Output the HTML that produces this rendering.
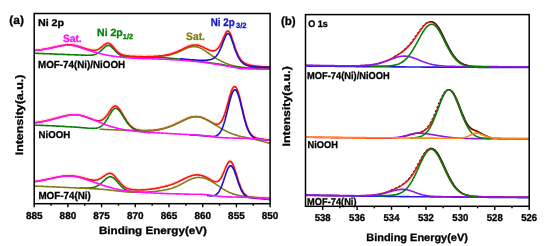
<!DOCTYPE html>
<html><head><meta charset="utf-8"><style>
html,body{margin:0;padding:0;background:#fff;}
svg{display:block;filter:blur(0.35px);}
text{font-family:"Liberation Sans",sans-serif;font-weight:bold;stroke-width:0.3px;text-rendering:geometricPrecision;}
</style></head><body>
<svg width="550" height="246" viewBox="0 0 550 246">
<rect width="550" height="246" fill="#fff"/>
<g stroke-linejoin="round" stroke-linecap="round">
<path d="M35.0,49.7L35.8,49.6L36.5,49.5L37.2,49.5L38.0,49.4L38.8,49.3L39.5,49.2L40.2,49.1L41.0,49.0L41.8,48.9L42.5,48.7L43.2,48.6L44.0,48.5L44.8,48.4L45.5,48.2L46.2,48.1L47.0,48.0L47.8,47.8L48.5,47.7L49.2,47.5L50.0,47.4L50.8,47.2L51.5,47.0L52.2,46.9L53.0,46.7L53.8,46.5L54.5,46.4L55.2,46.2L56.0,46.0L56.8,45.9L57.5,45.7L58.2,45.5L59.0,45.4L59.8,45.2L60.5,45.1L61.2,44.9L62.0,44.8L62.8,44.7L63.5,44.6L64.2,44.5L65.0,44.4L65.8,44.3L66.5,44.2L67.2,44.2L68.0,44.1L68.8,44.1L69.5,44.1L70.2,44.1L71.0,44.2L71.8,44.2L72.5,44.3L73.2,44.4L74.0,44.6L74.8,44.7L75.5,44.9L76.2,45.0L77.0,45.2L77.8,45.4L78.5,45.6L79.2,45.9L80.0,46.1L80.8,46.3L81.5,46.6L82.2,46.8L83.0,47.1L83.8,47.3L84.5,47.5L85.2,47.8L86.0,48.0L86.8,48.2L87.5,48.5L88.2,48.7L89.0,48.9L89.8,49.1L90.5,49.2L91.2,49.4L92.0,49.5L92.8,49.6L93.5,49.6L94.2,49.6L95.0,49.6L95.8,49.5L96.5,49.3L97.2,49.1L98.0,48.8L98.8,48.4L99.5,47.9L100.2,47.4L101.0,46.8L101.8,46.2L102.5,45.6L103.2,45.0L104.0,44.3L104.8,43.8L105.5,43.3L106.2,42.9L107.0,42.6L107.8,42.5L108.5,42.5L109.2,42.7L110.0,43.1L110.8,43.7L111.5,44.3L112.2,45.1L113.0,46.0L113.8,46.8L114.5,47.7L115.2,48.6L116.0,49.5L116.8,50.3L117.5,51.0L118.2,51.7L119.0,52.3L119.8,52.8L120.5,53.2L121.2,53.6L122.0,53.9L122.8,54.2L123.5,54.4L124.2,54.6L125.0,54.8L125.8,54.9L126.5,55.1L127.2,55.2L128.0,55.2L128.8,55.3L129.5,55.4L130.2,55.5L131.0,55.5L131.8,55.6L132.5,55.6L133.2,55.7L134.0,55.7L134.8,55.7L135.5,55.8L136.2,55.8L137.0,55.8L137.8,55.9L138.5,55.9L139.2,55.9L140.0,55.9L140.8,55.9L141.5,55.9L142.2,55.9L143.0,56.0L143.8,56.0L144.5,56.0L145.2,56.0L146.0,56.0L146.8,55.9L147.5,55.9L148.2,55.9L149.0,55.9L149.8,55.9L150.5,55.9L151.2,55.9L152.0,55.8L152.8,55.8L153.5,55.8L154.2,55.7L155.0,55.7L155.8,55.7L156.5,55.6L157.2,55.5L158.0,55.5L158.8,55.4L159.5,55.3L160.2,55.3L161.0,55.2L161.8,55.1L162.5,55.0L163.2,54.9L164.0,54.8L164.8,54.7L165.5,54.5L166.2,54.4L167.0,54.2L167.8,54.1L168.5,53.9L169.2,53.7L170.0,53.5L170.8,53.3L171.5,53.1L172.2,52.8L173.0,52.6L173.8,52.3L174.5,52.0L175.2,51.7L176.0,51.4L176.8,51.1L177.5,50.8L178.2,50.5L179.0,50.1L179.8,49.8L180.5,49.4L181.2,49.0L182.0,48.7L182.8,48.3L183.5,47.9L184.2,47.6L185.0,47.2L185.8,46.8L186.5,46.5L187.2,46.2L188.0,45.8L188.8,45.5L189.5,45.3L190.2,45.0L191.0,44.8L191.8,44.6L192.5,44.5L193.2,44.4L194.0,44.3L194.8,44.3L195.5,44.3L196.2,44.3L197.0,44.4L197.8,44.6L198.5,44.7L199.2,44.9L200.0,45.2L200.8,45.5L201.5,45.8L202.2,46.1L203.0,46.4L203.8,46.8L204.5,47.2L205.2,47.5L206.0,47.9L206.8,48.3L207.5,48.6L208.2,49.0L209.0,49.3L209.8,49.6L210.5,49.8L211.2,50.0L212.0,50.1L212.8,50.2L213.5,50.2L214.2,50.1L215.0,49.8L215.8,49.5L216.5,49.0L217.2,48.3L218.0,47.5L218.8,46.6L219.5,45.5L220.2,44.2L221.0,42.7L221.8,41.1L222.5,39.5L223.2,37.7L224.0,36.0L224.8,34.3L225.5,32.8L226.2,31.5L227.0,30.7L227.8,30.3L228.5,30.4L229.2,31.1L230.0,32.4L230.8,34.1L231.5,36.1L232.2,38.4L233.0,40.7L233.8,43.1L234.5,45.4L235.2,47.6L236.0,49.6L236.8,51.5L237.5,53.2L238.2,54.8L239.0,56.2L239.8,57.4L240.5,58.5L241.2,59.5L242.0,60.3L242.8,61.0L243.5,61.6L244.2,62.2L245.0,62.6L245.8,63.0L246.5,63.4L247.2,63.7L248.0,63.9L248.8,64.2L249.5,64.3L250.2,64.5L251.0,64.7L251.8,64.8L252.5,64.9L253.2,65.0L254.0,65.2L254.8,65.3L255.5,65.3L256.2,65.4L257.0,65.5L257.8,65.6L258.5,65.7L259.2,65.7L260.0,65.8L260.8,65.9L261.5,65.9L262.2,66.0L263.0,66.0L263.8,66.1L264.5,66.1L265.2,66.1L266.0,66.2L266.8,66.2L267.5,66.2L268.2,66.3L269.0,66.3L269.3,66.3" stroke="#ffe0da" stroke-width="2.8" fill="none"/>
<path d="M120.5,56.5L121.2,56.5L122.0,56.6L122.8,56.6L123.5,56.6L124.2,56.6L125.0,56.6L125.8,56.6L126.5,56.6L127.2,56.7L128.0,56.7L128.8,56.7L129.5,56.7L130.2,56.7L131.0,56.7L131.8,56.7L132.5,56.7L133.2,56.7L134.0,56.7L134.8,56.7L135.5,56.8L136.2,56.8L137.0,56.8L137.8,56.8L138.5,56.8L139.2,56.8L140.0,56.8L140.8,56.8L141.5,56.8L142.2,56.8L143.0,56.8L143.8,56.8L144.5,56.8L145.2,56.8L146.0,56.8L146.8,56.8L147.5,56.8L148.2,56.8L149.0,56.8L149.8,56.7L150.5,56.7L151.2,56.7L152.0,56.7L152.8,56.7L153.5,56.7L154.2,56.7L155.0,56.6L155.8,56.6L156.5,56.6L157.2,56.5L158.0,56.5L158.8,56.4L159.5,56.4L160.2,56.3L161.0,56.3L161.8,56.2L162.5,56.1L163.2,56.0L164.0,55.9L164.8,55.8L165.5,55.7L166.2,55.6L167.0,55.5L167.8,55.4L168.5,55.2L169.2,55.0L170.0,54.9L170.8,54.7L171.5,54.5L172.2,54.3L173.0,54.0L173.8,53.8L174.5,53.5L175.2,53.3L176.0,53.0L176.8,52.7L177.5,52.4L178.2,52.1L179.0,51.8L179.8,51.4L180.5,51.1L181.2,50.7L182.0,50.4L182.8,50.0L183.5,49.7L184.2,49.4L185.0,49.0L185.8,48.7L186.5,48.4L187.2,48.1L188.0,47.8L188.8,47.5L189.5,47.3L190.2,47.1L191.0,46.9L191.8,46.7L192.5,46.6L193.2,46.6L194.0,46.5L194.8,46.6L195.5,46.6L196.2,46.7L197.0,46.9L197.8,47.1L198.5,47.3L199.2,47.6L200.0,47.9L200.8,48.3L201.5,48.6L202.2,49.0L203.0,49.5L203.8,49.9L204.5,50.4L205.2,50.9L206.0,51.4L206.8,52.0L207.5,52.5L208.2,53.0L209.0,53.5L209.8,54.1L210.5,54.6L211.2,55.1L212.0,55.7L212.8,56.2L213.5,56.7L214.2,57.2L215.0,57.6L215.8,58.1L216.5,58.6L217.2,59.0L218.0,59.4L218.8,59.8L219.5,60.2L220.2,60.6L221.0,61.0L221.8,61.4L222.5,61.7L223.2,62.1L224.0,62.4L224.8,62.7L225.5,63.0L226.2,63.4L227.0,63.7L227.8,63.9L228.5,64.2L229.2,64.5L230.0,64.8L230.8,65.0L231.5,65.2L232.2,65.5L233.0,65.6L233.8,65.8L234.5,66.0L235.2,66.1L236.0,66.3L236.8,66.4L237.5,66.5L238.2,66.7L239.0,66.8L239.8,66.9L240.5,67.0L241.2,67.1L242.0,67.2L242.8,67.3L243.5,67.4L244.2,67.5L245.0,67.6L245.8,67.6L246.5,67.7L247.2,67.7L248.0,67.8L248.8,67.8L249.5,67.8L250.2,67.8L251.0,67.9L251.8,67.9L252.5,67.9L253.2,67.9L254.0,67.9L254.8,67.9L255.5,67.9L256.2,67.9L257.0,67.9L257.8,67.9L258.5,67.9L259.2,67.9L260.0,67.9L260.8,67.9L261.5,67.9L262.2,67.9L263.0,67.9L263.8,67.9L264.5,67.9L265.2,67.9L266.0,67.9L266.8,67.8L267.5,67.8L268.2,67.8L269.0,67.8L269.3,67.8" stroke="#7f7f12" stroke-width="1.60" fill="none"/>
<path d="M35.0,53.3L35.8,53.3L36.5,53.3L37.2,53.4L38.0,53.4L38.8,53.4L39.5,53.5L40.2,53.5L41.0,53.5L41.8,53.5L42.5,53.6L43.2,53.6L44.0,53.6L44.8,53.7L45.5,53.7L46.2,53.7L47.0,53.8L47.8,53.8L48.5,53.8L49.2,53.8L50.0,53.9L50.8,53.9L51.5,53.9L52.2,54.0L53.0,54.0L53.8,54.0L54.5,54.1L55.2,54.1L56.0,54.1L56.8,54.1L57.5,54.2L58.2,54.2L59.0,54.2L59.8,54.3L60.5,54.3L61.2,54.3L62.0,54.3L62.8,54.4L63.5,54.4L64.2,54.4L65.0,54.5L65.8,54.5L66.5,54.5L67.2,54.6L68.0,54.6L68.8,54.6L69.5,54.6L70.2,54.7L71.0,54.7L71.8,54.7L72.5,54.7L73.2,54.8L74.0,54.8L74.8,54.8L75.5,54.9L76.2,54.9L77.0,54.9L77.8,54.9L78.5,55.0L79.2,55.0L80.0,55.0L80.8,55.0L81.5,55.1L82.2,55.1L83.0,55.1L83.8,55.1L84.5,55.2L85.2,55.2L86.0,55.2L86.8,55.2L87.5,55.2L88.2,55.2L89.0,55.2L89.8,55.2L90.5,55.2L91.2,55.1L92.0,55.1L92.8,55.0L93.5,54.8L94.2,54.7L95.0,54.5L95.8,54.2L96.5,53.9L97.2,53.5L98.0,53.1L98.8,52.6L99.5,52.0L100.2,51.4L101.0,50.7L101.8,50.0L102.5,49.2L103.2,48.5L104.0,47.8L104.8,47.1L105.5,46.5L106.2,46.0L107.0,45.6L107.8,45.4L108.5,45.4L109.2,45.5L110.0,45.8L110.8,46.3L111.5,46.9L112.2,47.6L113.0,48.4L113.8,49.2L114.5,50.0L115.2,50.8L116.0,51.6L116.8,52.4L117.5,53.0L118.2,53.7L119.0,54.2L119.8,54.7L120.5,55.1L121.2,55.4L122.0,55.7L122.8,55.9L123.5,56.1L124.2,56.3L125.0,56.4L125.8,56.5L126.5,56.6L127.2,56.6L128.0,56.7L128.8,56.7L129.5,56.8L130.2,56.8L131.0,56.8L131.8,56.9L132.5,56.9L133.2,56.9L134.0,56.9L134.8,56.9L135.5,57.0L136.2,57.0L137.0,57.0L137.8,57.0L138.5,57.0L139.2,57.1L140.0,57.1L140.8,57.1L141.5,57.1L142.2,57.1L143.0,57.1L143.8,57.2L144.5,57.2L145.2,57.2L146.0,57.2L146.8,57.2L147.5,57.2L148.2,57.2L149.0,57.3L149.8,57.3L150.5,57.3L151.2,57.3L152.0,57.3L152.8,57.4L153.5,57.4L154.2,57.4L155.0,57.4L155.8,57.4L156.5,57.5L157.2,57.5L158.0,57.5L158.8,57.5L159.5,57.6L160.2,57.6L161.0,57.6L161.8,57.7L162.5,57.7L163.2,57.7L164.0,57.8L164.8,57.8L165.5,57.9L166.2,57.9L167.0,58.0L167.8,58.0L168.5,58.1L169.2,58.1L170.0,58.2L170.8,58.3L171.5,58.3L172.2,58.4L173.0,58.5L173.8,58.5L174.5,58.6L175.2,58.7L176.0,58.8L176.8,58.8L177.5,58.9L178.2,59.0L179.0,59.1L179.8,59.2L180.5,59.2L181.2,59.3L182.0,59.4L182.8,59.5L183.5,59.6L184.2,59.7L185.0,59.8L185.8,59.9L186.5,59.9L187.2,60.0L188.0,60.1L188.8,60.2L189.5,60.3L190.2,60.4L191.0,60.5L191.8,60.6L192.5,60.7L193.2,60.8L194.0,60.9L194.8,61.0L195.5,61.0L196.2,61.1L197.0,61.2L197.8,61.3L198.5,61.4L199.2,61.5L200.0,61.6L200.8,61.7L201.5,61.8L202.2,61.9L203.0,61.9L203.8,62.0L204.5,62.1L205.2,62.2L206.0,62.3L206.8,62.4L207.5,62.5L208.2,62.6L209.0,62.7L209.8,62.8L210.5,62.9L211.2,63.0L212.0,63.1L212.8,63.2L213.5,63.3L214.2,63.4L215.0,63.5L215.8,63.6L216.5,63.7L217.2,63.8L218.0,64.0L218.8,64.1L219.5,64.2L220.2,64.3L221.0,64.4L221.8,64.5L222.5,64.7L223.2,64.8L224.0,64.9L224.8,65.1L225.5,65.2L226.2,65.4L227.0,65.5L227.8,65.7L228.5,65.9L229.2,66.0L230.0,66.2L230.8,66.3L231.5,66.5L232.2,66.6L233.0,66.7L233.8,66.8L234.5,66.9L235.2,67.0L236.0,67.1L236.8,67.2L237.5,67.3L238.2,67.4L239.0,67.5L239.8,67.5L240.5,67.6L241.2,67.7L242.0,67.8L242.8,67.9L243.5,67.9L244.2,68.0L245.0,68.0L245.8,68.1L246.5,68.1L247.2,68.2L248.0,68.2L248.8,68.2L249.5,68.2L250.2,68.2L251.0,68.2L251.8,68.2L252.5,68.2L253.2,68.2L254.0,68.2L254.8,68.2L255.5,68.2L256.2,68.2L257.0,68.2L257.8,68.2L258.5,68.2L259.2,68.2L260.0,68.2L260.8,68.2L261.5,68.2L262.2,68.2L263.0,68.2L263.8,68.1L264.5,68.1L265.2,68.1L266.0,68.1L266.8,68.1L267.5,68.1L268.2,68.0L269.0,68.0L269.3,68.0" stroke="#0a7d0a" stroke-width="1.60" fill="none"/>
<path d="M35.0,50.4L35.8,50.3L36.5,50.2L37.2,50.2L38.0,50.1L38.8,50.0L39.5,49.9L40.2,49.8L41.0,49.7L41.8,49.6L42.5,49.4L43.2,49.3L44.0,49.2L44.8,49.1L45.5,48.9L46.2,48.8L47.0,48.7L47.8,48.5L48.5,48.4L49.2,48.2L50.0,48.1L50.8,47.9L51.5,47.7L52.2,47.6L53.0,47.4L53.8,47.2L54.5,47.1L55.2,46.9L56.0,46.7L56.8,46.6L57.5,46.4L58.2,46.2L59.0,46.1L59.8,45.9L60.5,45.8L61.2,45.6L62.0,45.5L62.8,45.4L63.5,45.3L64.2,45.2L65.0,45.1L65.8,45.0L66.5,44.9L67.2,44.9L68.0,44.8L68.8,44.8L69.5,44.8L70.2,44.8L71.0,44.9L71.8,44.9L72.5,45.0L73.2,45.1L74.0,45.3L74.8,45.4L75.5,45.6L76.2,45.7L77.0,45.9L77.8,46.1L78.5,46.3L79.2,46.6L80.0,46.8L80.8,47.0L81.5,47.3L82.2,47.5L83.0,47.8L83.8,48.0L84.5,48.2L85.2,48.5L86.0,48.7L86.8,48.9L87.5,49.2L88.2,49.4L89.0,49.6L89.8,49.8L90.5,49.9L91.2,50.1L92.0,50.2L92.8,50.3L93.5,50.3L94.2,50.3L95.0,50.3L95.8,50.2L96.5,50.0L97.2,49.8L98.0,49.5L98.8,49.1L99.5,48.6L100.2,48.1L101.0,47.5L101.8,46.9L102.5,46.3L103.2,45.7L104.0,45.0L104.8,44.5L105.5,44.0L106.2,43.6L107.0,43.3L107.8,43.2L108.5,43.2L109.2,43.4L110.0,43.8L110.8,44.4L111.5,45.0L112.2,45.8L113.0,46.7L113.8,47.5L114.5,48.4L115.2,49.3L116.0,50.2L116.8,51.0L117.5,51.7L118.2,52.4L119.0,53.0L119.8,53.5L120.5,53.9L121.2,54.3L122.0,54.6L122.8,54.9L123.5,55.1L124.2,55.3L125.0,55.5L125.8,55.6L126.5,55.8L127.2,55.9L128.0,55.9L128.8,56.0L129.5,56.1L130.2,56.2L131.0,56.2L131.8,56.3L132.5,56.3L133.2,56.4L134.0,56.4L134.8,56.4L135.5,56.5L136.2,56.5L137.0,56.5L137.8,56.6L138.5,56.6L139.2,56.6L140.0,56.6L140.8,56.6L141.5,56.6L142.2,56.6L143.0,56.7L143.8,56.7L144.5,56.7L145.2,56.7L146.0,56.7L146.8,56.6L147.5,56.6L148.2,56.6L149.0,56.6L149.8,56.6L150.5,56.6L151.2,56.6L152.0,56.5L152.8,56.5L153.5,56.5L154.2,56.4L155.0,56.4L155.8,56.4L156.5,56.3L157.2,56.2L158.0,56.2L158.8,56.1L159.5,56.0L160.2,56.0L161.0,55.9L161.8,55.8L162.5,55.7L163.2,55.6L164.0,55.5L164.8,55.4L165.5,55.2L166.2,55.1L167.0,54.9L167.8,54.8L168.5,54.6L169.2,54.4L170.0,54.2L170.8,54.0L171.5,53.8L172.2,53.5L173.0,53.3L173.8,53.0L174.5,52.7L175.2,52.4L176.0,52.1L176.8,51.8L177.5,51.5L178.2,51.2L179.0,50.8L179.8,50.5L180.5,50.1L181.2,49.7L182.0,49.4L182.8,49.0L183.5,48.6L184.2,48.3L185.0,47.9L185.8,47.5L186.5,47.2L187.2,46.9L188.0,46.5L188.8,46.2L189.5,46.0L190.2,45.7L191.0,45.5L191.8,45.3L192.5,45.2L193.2,45.1L194.0,45.0L194.8,45.0L195.5,45.0L196.2,45.0L197.0,45.1L197.8,45.3L198.5,45.4L199.2,45.6L200.0,45.9L200.8,46.2L201.5,46.5L202.2,46.8L203.0,47.1L203.8,47.5L204.5,47.9L205.2,48.2L206.0,48.6L206.8,49.0L207.5,49.3L208.2,49.7L209.0,50.0L209.8,50.3L210.5,50.5L211.2,50.7L212.0,50.8L212.8,50.9L213.5,50.9L214.2,50.8L215.0,50.5L215.8,50.2L216.5,49.7L217.2,49.0L218.0,48.2L218.8,47.3L219.5,46.2L220.2,44.9L221.0,43.4L221.8,41.8L222.5,40.2L223.2,38.4L224.0,36.7L224.8,35.0L225.5,33.5L226.2,32.2L227.0,31.4L227.8,31.0L228.5,31.1L229.2,31.8L230.0,33.1L230.8,34.8L231.5,36.8L232.2,39.1L233.0,41.4L233.8,43.8L234.5,46.1L235.2,48.3L236.0,50.3L236.8,52.2L237.5,53.9L238.2,55.5L239.0,56.9L239.8,58.1L240.5,59.2L241.2,60.2L242.0,61.0L242.8,61.7L243.5,62.3L244.2,62.9L245.0,63.3L245.8,63.7L246.5,64.1L247.2,64.4L248.0,64.6L248.8,64.9L249.5,65.0L250.2,65.2L251.0,65.4L251.8,65.5L252.5,65.6L253.2,65.7L254.0,65.9L254.8,66.0L255.5,66.0L256.2,66.1L257.0,66.2L257.8,66.3L258.5,66.4L259.2,66.4L260.0,66.5L260.8,66.6L261.5,66.6L262.2,66.7L263.0,66.7L263.8,66.8L264.5,66.8L265.2,66.8L266.0,66.9L266.8,66.9L267.5,66.9L268.2,67.0L269.0,67.0L269.3,67.0" stroke="#ff1010" stroke-width="1.60" fill="none"/>
<path d="M180.5,58.8L181.2,58.8L182.0,58.9L182.8,59.0L183.5,59.0L184.2,59.1L185.0,59.2L185.8,59.3L186.5,59.3L187.2,59.4L188.0,59.5L188.8,59.5L189.5,59.6L190.2,59.7L191.0,59.7L191.8,59.8L192.5,59.8L193.2,59.9L194.0,59.9L194.8,60.0L195.5,60.0L196.2,60.1L197.0,60.1L197.8,60.2L198.5,60.2L199.2,60.2L200.0,60.3L200.8,60.3L201.5,60.3L202.2,60.3L203.0,60.3L203.8,60.3L204.5,60.3L205.2,60.3L206.0,60.2L206.8,60.2L207.5,60.1L208.2,60.0L209.0,59.9L209.8,59.8L210.5,59.6L211.2,59.4L212.0,59.1L212.8,58.7L213.5,58.3L214.2,57.8L215.0,57.2L215.8,56.5L216.5,55.7L217.2,54.7L218.0,53.6L218.8,52.3L219.5,50.9L220.2,49.4L221.0,47.7L221.8,45.9L222.5,43.9L223.2,42.0L224.0,40.0L224.8,38.2L225.5,36.5L226.2,35.1L227.0,34.1L227.8,33.6L228.5,33.6L229.2,34.2L230.0,35.3L230.8,36.9L231.5,38.9L232.2,41.1L233.0,43.3L233.8,45.6L234.5,47.9L235.2,50.0L236.0,52.0L236.8,53.8L237.5,55.5L238.2,57.0L239.0,58.4L239.8,59.6L240.5,60.6L241.2,61.5L242.0,62.3L242.8,63.0L243.5,63.6L244.2,64.1L245.0,64.5L245.8,64.9L246.5,65.2L247.2,65.5L248.0,65.7L248.8,65.9L249.5,66.1L250.2,66.2L251.0,66.4L251.8,66.5L252.5,66.6L253.2,66.7L254.0,66.7L254.8,66.8L255.5,66.9L256.2,67.0L257.0,67.0L257.8,67.1L258.5,67.1L259.2,67.2L260.0,67.2L260.8,67.2L261.5,67.3L262.2,67.3L263.0,67.3L263.8,67.3L264.5,67.4L265.2,67.4L266.0,67.4L266.8,67.4L267.5,67.4L268.2,67.4L269.0,67.4L269.3,67.4" stroke="#1414c8" stroke-width="1.60" fill="none"/>
<path d="M35.0,50.6L35.8,50.5L36.5,50.4L37.2,50.3L38.0,50.2L38.8,50.1L39.5,50.0L40.2,49.9L41.0,49.8L41.8,49.7L42.5,49.6L43.2,49.5L44.0,49.4L44.8,49.2L45.5,49.1L46.2,49.0L47.0,48.8L47.8,48.7L48.5,48.5L49.2,48.4L50.0,48.2L50.8,48.1L51.5,47.9L52.2,47.8L53.0,47.6L53.8,47.5L54.5,47.3L55.2,47.1L56.0,47.0L56.8,46.8L57.5,46.6L58.2,46.5L59.0,46.3L59.8,46.2L60.5,46.0L61.2,45.9L62.0,45.8L62.8,45.7L63.5,45.6L64.2,45.5L65.0,45.4L65.8,45.3L66.5,45.3L67.2,45.2L68.0,45.2L68.8,45.2L69.5,45.2L70.2,45.3L71.0,45.3L71.8,45.4L72.5,45.5L73.2,45.6L74.0,45.7L74.8,45.9L75.5,46.1L76.2,46.3L77.0,46.5L77.8,46.7L78.5,46.9L79.2,47.2L80.0,47.4L80.8,47.7L81.5,47.9L82.2,48.2L83.0,48.4L83.8,48.7L84.5,49.0L85.2,49.2L86.0,49.5L86.8,49.7L87.5,50.0L88.2,50.2L89.0,50.5L89.8,50.7L90.5,51.0L91.2,51.2L92.0,51.4L92.8,51.7L93.5,51.9L94.2,52.1L95.0,52.3L95.8,52.5L96.5,52.7L97.2,52.9L98.0,53.1L98.8,53.3L99.5,53.5L100.2,53.7L101.0,53.8L101.8,54.0L102.5,54.2L103.2,54.3L104.0,54.5L104.8,54.7L105.5,54.8L106.2,55.0L107.0,55.1L107.8,55.2L108.5,55.4L109.2,55.5L110.0,55.6L110.8,55.8L111.5,55.9L112.2,56.0L113.0,56.1L113.8,56.2L114.5,56.3L115.2,56.4L116.0,56.5L116.8,56.6L117.5,56.7L118.2,56.8L119.0,56.9L119.8,57.0L120.5,57.1L121.2,57.2L122.0,57.3L122.8,57.3L123.5,57.4L124.2,57.5L125.0,57.5L125.8,57.6L126.5,57.7L127.2,57.7L128.0,57.8L128.8,57.8L129.5,57.9L130.2,57.9L131.0,58.0L131.8,58.0L132.5,58.1L133.2,58.1L134.0,58.2L134.8,58.2L135.5,58.2L136.2,58.3L137.0,58.3L137.8,58.3L138.5,58.4L139.2,58.4L140.0,58.4L140.8,58.5L141.5,58.5L142.2,58.5L143.0,58.6L143.8,58.6L144.5,58.6L145.2,58.6L146.0,58.7L146.8,58.7L147.5,58.7L148.2,58.7L149.0,58.8L149.8,58.8L150.5,58.8L151.2,58.8L152.0,58.9L152.8,58.9L153.5,58.9L154.2,58.9L155.0,59.0L155.8,59.0L156.5,59.0L157.2,59.0L158.0,59.1L158.8,59.1L159.5,59.1L160.2,59.1L161.0,59.2L161.8,59.2L162.5,59.2L163.2,59.2L164.0,59.3L164.8,59.3L165.5,59.3L166.2,59.4L167.0,59.4L167.8,59.4L168.5,59.5L169.2,59.5L170.0,59.5L170.8,59.6L171.5,59.6L172.2,59.6L173.0,59.7L173.8,59.7L174.5,59.8L175.2,59.8L176.0,59.9L176.8,59.9L177.5,59.9L178.2,60.0L179.0,60.1L179.8,60.1L180.5,60.2L181.2,60.2L182.0,60.3L182.8,60.3L183.5,60.4L184.2,60.4L185.0,60.5L185.8,60.6L186.5,60.6L187.2,60.7L188.0,60.8L188.8,60.8L189.5,60.9L190.2,61.0L191.0,61.0L191.8,61.1L192.5,61.2L193.2,61.2L194.0,61.3L194.8,61.4L195.5,61.5L196.2,61.5L197.0,61.6L197.8,61.7L198.5,61.8L199.2,61.8L200.0,61.9L200.8,62.0L201.5,62.1L202.2,62.2L203.0,62.3L203.8,62.3L204.5,62.4L205.2,62.6L206.0,62.7L206.8,62.8L207.5,62.9L208.2,63.0L209.0,63.1L209.8,63.2L210.5,63.3L211.2,63.5L212.0,63.6L212.8,63.7L213.5,63.8L214.2,64.0L215.0,64.1L215.8,64.2L216.5,64.3L217.2,64.5L218.0,64.6L218.8,64.7L219.5,64.8L220.2,65.0L221.0,65.1L221.8,65.2L222.5,65.3L223.2,65.5L224.0,65.6L224.8,65.7L225.5,65.8L226.2,65.9L227.0,66.1L227.8,66.2L228.5,66.3L229.2,66.4L230.0,66.6L230.8,66.7L231.5,66.9L232.2,67.0L233.0,67.1L233.8,67.3L234.5,67.4L235.2,67.6L236.0,67.7L236.8,67.8L237.5,68.0L238.2,68.1L239.0,68.2L239.8,68.3L240.5,68.4L241.2,68.5L242.0,68.6L242.8,68.6L243.5,68.7L244.2,68.7L245.0,68.8L245.8,68.8L246.5,68.8L247.2,68.8L248.0,68.9L248.8,68.9L249.5,68.9L250.2,68.9L251.0,68.9L251.8,69.0L252.5,69.0L253.2,69.0L254.0,69.0L254.8,69.0L255.5,69.0L256.2,69.1L257.0,69.1L257.8,69.1L258.5,69.1L259.2,69.1L260.0,69.1L260.8,69.1L261.5,69.1L262.2,69.2L263.0,69.2L263.8,69.2L264.5,69.2L265.2,69.2L266.0,69.2L266.8,69.2L267.5,69.2L268.2,69.2L269.0,69.2L269.3,69.2" stroke="#ff10ff" stroke-width="1.60" fill="none"/>
<path d="M35.0,121.9L35.8,121.8L36.5,121.7L37.2,121.6L38.0,121.5L38.8,121.4L39.5,121.3L40.2,121.1L41.0,121.0L41.8,120.9L42.5,120.7L43.2,120.6L44.0,120.5L44.8,120.3L45.5,120.1L46.2,120.0L47.0,119.8L47.8,119.6L48.5,119.5L49.2,119.3L50.0,119.1L50.8,118.9L51.5,118.7L52.2,118.5L53.0,118.3L53.8,118.1L54.5,117.9L55.2,117.7L56.0,117.5L56.8,117.3L57.5,117.1L58.2,116.9L59.0,116.7L59.8,116.5L60.5,116.3L61.2,116.1L62.0,115.9L62.8,115.7L63.5,115.5L64.2,115.3L65.0,115.2L65.8,115.0L66.5,114.9L67.2,114.7L68.0,114.6L68.8,114.5L69.5,114.4L70.2,114.3L71.0,114.2L71.8,114.1L72.5,114.1L73.2,114.1L74.0,114.0L74.8,114.0L75.5,114.1L76.2,114.1L77.0,114.2L77.8,114.3L78.5,114.4L79.2,114.5L80.0,114.6L80.8,114.8L81.5,115.0L82.2,115.2L83.0,115.4L83.8,115.6L84.5,115.9L85.2,116.1L86.0,116.4L86.8,116.6L87.5,116.9L88.2,117.2L89.0,117.5L89.8,117.7L90.5,118.0L91.2,118.3L92.0,118.6L92.8,118.9L93.5,119.1L94.2,119.3L95.0,119.6L95.8,119.8L96.5,119.9L97.2,120.0L98.0,120.1L98.8,120.1L99.5,120.0L100.2,119.9L101.0,119.7L101.8,119.4L102.5,119.0L103.2,118.5L104.0,117.9L104.8,117.2L105.5,116.4L106.2,115.5L107.0,114.5L107.8,113.5L108.5,112.4L109.2,111.2L110.0,110.1L110.8,109.0L111.5,108.0L112.2,107.1L113.0,106.4L113.8,105.8L114.5,105.4L115.2,105.3L116.0,105.5L116.8,105.8L117.5,106.3L118.2,107.1L119.0,107.9L119.8,108.9L120.5,110.0L121.2,111.2L122.0,112.5L122.8,113.8L123.5,115.1L124.2,116.3L125.0,117.6L125.8,118.8L126.5,120.0L127.2,121.1L128.0,122.1L128.8,123.1L129.5,124.0L130.2,124.8L131.0,125.5L131.8,126.1L132.5,126.7L133.2,127.2L134.0,127.7L134.8,128.1L135.5,128.4L136.2,128.8L137.0,129.0L137.8,129.2L138.5,129.4L139.2,129.6L140.0,129.7L140.8,129.9L141.5,130.0L142.2,130.1L143.0,130.1L143.8,130.2L144.5,130.2L145.2,130.2L146.0,130.3L146.8,130.3L147.5,130.3L148.2,130.3L149.0,130.2L149.8,130.2L150.5,130.2L151.2,130.1L152.0,130.1L152.8,130.0L153.5,129.9L154.2,129.8L155.0,129.7L155.8,129.6L156.5,129.5L157.2,129.4L158.0,129.2L158.8,129.1L159.5,128.9L160.2,128.8L161.0,128.6L161.8,128.4L162.5,128.2L163.2,128.0L164.0,127.8L164.8,127.6L165.5,127.3L166.2,127.1L167.0,126.9L167.8,126.6L168.5,126.3L169.2,126.1L170.0,125.8L170.8,125.5L171.5,125.2L172.2,124.9L173.0,124.6L173.8,124.2L174.5,123.9L175.2,123.6L176.0,123.2L176.8,122.9L177.5,122.5L178.2,122.1L179.0,121.8L179.8,121.4L180.5,121.1L181.2,120.7L182.0,120.3L182.8,120.0L183.5,119.6L184.2,119.2L185.0,118.9L185.8,118.6L186.5,118.2L187.2,117.9L188.0,117.6L188.8,117.3L189.5,117.1L190.2,116.8L191.0,116.6L191.8,116.4L192.5,116.3L193.2,116.1L194.0,116.0L194.8,116.0L195.5,115.9L196.2,115.9L197.0,116.0L197.8,116.0L198.5,116.1L199.2,116.3L200.0,116.4L200.8,116.6L201.5,116.9L202.2,117.1L203.0,117.4L203.8,117.7L204.5,118.0L205.2,118.4L206.0,118.8L206.8,119.1L207.5,119.5L208.2,120.0L209.0,120.4L209.8,120.8L210.5,121.2L211.2,121.7L212.0,122.1L212.8,122.4L213.5,122.8L214.2,123.1L215.0,123.3L215.8,123.5L216.5,123.6L217.2,123.6L218.0,123.5L218.8,123.2L219.5,122.7L220.2,122.0L221.0,121.1L221.8,120.0L222.5,118.7L223.2,117.1L224.0,115.2L224.8,113.1L225.5,110.8L226.2,108.3L227.0,105.6L227.8,102.9L228.5,100.1L229.2,97.4L230.0,94.7L230.8,92.3L231.5,90.2L232.2,88.5L233.0,87.1L233.8,86.2L234.5,85.9L235.2,86.0L236.0,86.7L236.8,87.9L237.5,89.7L238.2,91.8L239.0,94.3L239.8,97.2L240.5,100.2L241.2,103.4L242.0,106.7L242.8,109.9L243.5,113.1L244.2,116.1L245.0,119.0L245.8,121.6L246.5,124.0L247.2,126.2L248.0,128.1L248.8,129.8L249.5,131.2L250.2,132.5L251.0,133.5L251.8,134.4L252.5,135.1L253.2,135.7L254.0,136.2L254.8,136.6L255.5,136.9L256.2,137.2L257.0,137.5L257.8,137.7L258.5,137.8L259.2,138.0L260.0,138.1L260.8,138.2L261.5,138.4L262.2,138.5L263.0,138.6L263.8,138.7L264.5,138.8L265.2,138.9L266.0,139.0L266.8,139.2L267.5,139.3L268.2,139.4L269.0,139.5L269.3,139.5" stroke="#ffe0da" stroke-width="2.8" fill="none"/>
<path d="M35.0,122.6L35.8,122.5L36.5,122.4L37.2,122.3L38.0,122.2L38.8,122.1L39.5,122.0L40.2,121.8L41.0,121.7L41.8,121.6L42.5,121.4L43.2,121.3L44.0,121.2L44.8,121.0L45.5,120.8L46.2,120.7L47.0,120.5L47.8,120.3L48.5,120.2L49.2,120.0L50.0,119.8L50.8,119.6L51.5,119.4L52.2,119.2L53.0,119.0L53.8,118.8L54.5,118.6L55.2,118.4L56.0,118.2L56.8,118.0L57.5,117.8L58.2,117.6L59.0,117.4L59.8,117.2L60.5,117.0L61.2,116.8L62.0,116.6L62.8,116.4L63.5,116.2L64.2,116.0L65.0,115.9L65.8,115.7L66.5,115.6L67.2,115.4L68.0,115.3L68.8,115.2L69.5,115.1L70.2,115.0L71.0,114.9L71.8,114.8L72.5,114.8L73.2,114.8L74.0,114.7L74.8,114.7L75.5,114.8L76.2,114.8L77.0,114.9L77.8,115.0L78.5,115.1L79.2,115.2L80.0,115.3L80.8,115.5L81.5,115.7L82.2,115.9L83.0,116.1L83.8,116.3L84.5,116.6L85.2,116.8L86.0,117.1L86.8,117.3L87.5,117.6L88.2,117.9L89.0,118.2L89.8,118.4L90.5,118.7L91.2,119.0L92.0,119.3L92.8,119.6L93.5,119.8L94.2,120.0L95.0,120.3L95.8,120.5L96.5,120.6L97.2,120.7L98.0,120.8L98.8,120.8L99.5,120.7L100.2,120.6L101.0,120.4L101.8,120.1L102.5,119.7L103.2,119.2L104.0,118.6L104.8,117.9L105.5,117.1L106.2,116.2L107.0,115.2L107.8,114.2L108.5,113.1L109.2,111.9L110.0,110.8L110.8,109.7L111.5,108.7L112.2,107.8L113.0,107.1L113.8,106.5L114.5,106.1L115.2,106.0L116.0,106.2L116.8,106.5L117.5,107.0L118.2,107.8L119.0,108.6L119.8,109.6L120.5,110.7L121.2,111.9L122.0,113.2L122.8,114.5L123.5,115.8L124.2,117.0L125.0,118.3L125.8,119.5L126.5,120.7L127.2,121.8L128.0,122.8L128.8,123.8L129.5,124.7L130.2,125.5L131.0,126.2L131.8,126.8L132.5,127.4L133.2,127.9L134.0,128.4L134.8,128.8L135.5,129.1L136.2,129.5L137.0,129.7L137.8,129.9L138.5,130.1L139.2,130.3L140.0,130.4L140.8,130.6L141.5,130.7L142.2,130.8L143.0,130.8L143.8,130.9L144.5,130.9L145.2,130.9L146.0,131.0L146.8,131.0L147.5,131.0L148.2,131.0L149.0,130.9L149.8,130.9L150.5,130.9L151.2,130.8L152.0,130.8L152.8,130.7L153.5,130.6L154.2,130.5L155.0,130.4L155.8,130.3L156.5,130.2L157.2,130.1L158.0,129.9L158.8,129.8L159.5,129.6L160.2,129.5L161.0,129.3L161.8,129.1L162.5,128.9L163.2,128.7L164.0,128.5L164.8,128.3L165.5,128.0L166.2,127.8L167.0,127.6L167.8,127.3L168.5,127.0L169.2,126.8L170.0,126.5L170.8,126.2L171.5,125.9L172.2,125.6L173.0,125.3L173.8,124.9L174.5,124.6L175.2,124.3L176.0,123.9L176.8,123.6L177.5,123.2L178.2,122.8L179.0,122.5L179.8,122.1L180.5,121.8L181.2,121.4L182.0,121.0L182.8,120.7L183.5,120.3L184.2,119.9L185.0,119.6L185.8,119.3L186.5,118.9L187.2,118.6L188.0,118.3L188.8,118.0L189.5,117.8L190.2,117.5L191.0,117.3L191.8,117.1L192.5,117.0L193.2,116.8L194.0,116.7L194.8,116.7L195.5,116.6L196.2,116.6L197.0,116.7L197.8,116.7L198.5,116.8L199.2,117.0L200.0,117.1L200.8,117.3L201.5,117.6L202.2,117.8L203.0,118.1L203.8,118.4L204.5,118.7L205.2,119.1L206.0,119.5L206.8,119.8L207.5,120.2L208.2,120.7L209.0,121.1L209.8,121.5L210.5,121.9L211.2,122.4L212.0,122.8L212.8,123.1L213.5,123.5L214.2,123.8L215.0,124.0L215.8,124.2L216.5,124.3L217.2,124.3L218.0,124.2L218.8,123.9L219.5,123.4L220.2,122.7L221.0,121.8L221.8,120.7L222.5,119.4L223.2,117.8L224.0,115.9L224.8,113.8L225.5,111.5L226.2,109.0L227.0,106.3L227.8,103.6L228.5,100.8L229.2,98.1L230.0,95.4L230.8,93.0L231.5,90.9L232.2,89.2L233.0,87.8L233.8,86.9L234.5,86.6L235.2,86.7L236.0,87.4L236.8,88.6L237.5,90.4L238.2,92.5L239.0,95.0L239.8,97.9L240.5,100.9L241.2,104.1L242.0,107.4L242.8,110.6L243.5,113.8L244.2,116.8L245.0,119.7L245.8,122.3L246.5,124.7L247.2,126.9L248.0,128.8L248.8,130.5L249.5,131.9L250.2,133.2L251.0,134.2L251.8,135.1L252.5,135.8L253.2,136.4L254.0,136.9L254.8,137.3L255.5,137.6L256.2,137.9L257.0,138.2L257.8,138.4L258.5,138.5L259.2,138.7L260.0,138.8L260.8,138.9L261.5,139.1L262.2,139.2L263.0,139.3L263.8,139.4L264.5,139.5L265.2,139.6L266.0,139.7L266.8,139.9L267.5,140.0L268.2,140.1L269.0,140.2L269.3,140.2" stroke="#ff1010" stroke-width="1.60" fill="none"/>
<path d="M100.2,129.2L101.0,129.2L101.8,129.3L102.5,129.3L103.2,129.4L104.0,129.4L104.8,129.5L105.5,129.5L106.2,129.5L107.0,129.6L107.8,129.6L108.5,129.6L109.2,129.7L110.0,129.7L110.8,129.7L111.5,129.7L112.2,129.8L113.0,129.8L113.8,129.8L114.5,129.8L115.2,129.9L116.0,129.9L116.8,129.9L117.5,129.9L118.2,130.0L119.0,130.0L119.8,130.0L120.5,130.0L121.2,130.0L122.0,130.1L122.8,130.1L123.5,130.1L124.2,130.1L125.0,130.1L125.8,130.2L126.5,130.2L127.2,130.2L128.0,130.2L128.8,130.2L129.5,130.3L130.2,130.3L131.0,130.3L131.8,130.3L132.5,130.3L133.2,130.3L134.0,130.4L134.8,130.4L135.5,130.4L136.2,130.4L137.0,130.4L137.8,130.4L138.5,130.5L139.2,130.5L140.0,130.5L140.8,130.5L141.5,130.5L142.2,130.5L143.0,130.5L143.8,130.5L144.5,130.5L145.2,130.5L146.0,130.5L146.8,130.5L147.5,130.5L148.2,130.4L149.0,130.4L149.8,130.4L150.5,130.4L151.2,130.3L152.0,130.3L152.8,130.2L153.5,130.1L154.2,130.1L155.0,130.0L155.8,129.9L156.5,129.8L157.2,129.7L158.0,129.6L158.8,129.5L159.5,129.3L160.2,129.2L161.0,129.0L161.8,128.9L162.5,128.7L163.2,128.5L164.0,128.4L164.8,128.2L165.5,128.0L166.2,127.7L167.0,127.5L167.8,127.3L168.5,127.1L169.2,126.8L170.0,126.5L170.8,126.3L171.5,126.0L172.2,125.7L173.0,125.4L173.8,125.1L174.5,124.8L175.2,124.4L176.0,124.1L176.8,123.8L177.5,123.4L178.2,123.0L179.0,122.7L179.8,122.3L180.5,121.9L181.2,121.6L182.0,121.2L182.8,120.8L183.5,120.5L184.2,120.1L185.0,119.8L185.8,119.4L186.5,119.1L187.2,118.7L188.0,118.4L188.8,118.1L189.5,117.9L190.2,117.6L191.0,117.4L191.8,117.2L192.5,117.0L193.2,116.9L194.0,116.8L194.8,116.7L195.5,116.7L196.2,116.7L197.0,116.7L197.8,116.7L198.5,116.8L199.2,117.0L200.0,117.1L200.8,117.3L201.5,117.5L202.2,117.7L203.0,118.0L203.8,118.3L204.5,118.6L205.2,119.0L206.0,119.4L206.8,119.7L207.5,120.1L208.2,120.6L209.0,121.0L209.8,121.4L210.5,121.9L211.2,122.3L212.0,122.8L212.8,123.3L213.5,123.8L214.2,124.2L215.0,124.7L215.8,125.2L216.5,125.6L217.2,126.1L218.0,126.6L218.8,127.0L219.5,127.5L220.2,127.9L221.0,128.4L221.8,128.8L222.5,129.2L223.2,129.6L224.0,130.1L224.8,130.4L225.5,130.8L226.2,131.2L227.0,131.6L227.8,131.9L228.5,132.3L229.2,132.6L230.0,132.9L230.8,133.2L231.5,133.5L232.2,133.8L233.0,134.1L233.8,134.4L234.5,134.6L235.2,134.9L236.0,135.1L236.8,135.3L237.5,135.6L238.2,135.8L239.0,136.0L239.8,136.2L240.5,136.4L241.2,136.5L242.0,136.7L242.8,136.9L243.5,137.0L244.2,137.2L245.0,137.3L245.8,137.5L246.5,137.6L247.2,137.8L248.0,137.9L248.8,138.1L249.5,138.3L250.2,138.4L251.0,138.6L251.8,138.7L252.5,138.9L253.2,139.1L254.0,139.2L254.8,139.4L255.5,139.6L256.2,139.8L257.0,140.0L257.8,140.1L258.5,140.3L259.2,140.5L260.0,140.7L260.8,140.9L261.5,141.1L262.2,141.3L263.0,141.5L263.8,141.7L264.5,141.9L265.2,142.1L266.0,142.3L266.8,142.5L267.5,142.7L268.2,142.9L269.0,143.1L269.3,143.2" stroke="#7f7f12" stroke-width="1.60" fill="none"/>
<path d="M35.0,125.2L35.8,125.2L36.5,125.2L37.2,125.3L38.0,125.3L38.8,125.3L39.5,125.3L40.2,125.3L41.0,125.4L41.8,125.4L42.5,125.4L43.2,125.4L44.0,125.5L44.8,125.5L45.5,125.5L46.2,125.6L47.0,125.6L47.8,125.6L48.5,125.7L49.2,125.7L50.0,125.7L50.8,125.8L51.5,125.8L52.2,125.8L53.0,125.9L53.8,125.9L54.5,125.9L55.2,126.0L56.0,126.0L56.8,126.1L57.5,126.1L58.2,126.1L59.0,126.2L59.8,126.2L60.5,126.3L61.2,126.3L62.0,126.3L62.8,126.4L63.5,126.4L64.2,126.5L65.0,126.5L65.8,126.6L66.5,126.6L67.2,126.7L68.0,126.7L68.8,126.7L69.5,126.8L70.2,126.8L71.0,126.9L71.8,126.9L72.5,127.0L73.2,127.0L74.0,127.0L74.8,127.1L75.5,127.1L76.2,127.2L77.0,127.2L77.8,127.3L78.5,127.4L79.2,127.4L80.0,127.5L80.8,127.5L81.5,127.6L82.2,127.7L83.0,127.7L83.8,127.8L84.5,127.9L85.2,127.9L86.0,128.0L86.8,128.0L87.5,128.1L88.2,128.2L89.0,128.2L89.8,128.3L90.5,128.3L91.2,128.3L92.0,128.4L92.8,128.4L93.5,128.4L94.2,128.3L95.0,128.3L95.8,128.2L96.5,128.1L97.2,128.0L98.0,127.8L98.8,127.5L99.5,127.2L100.2,126.8L101.0,126.4L101.8,125.8L102.5,125.2L103.2,124.5L104.0,123.6L104.8,122.7L105.5,121.7L106.2,120.6L107.0,119.4L107.8,118.2L108.5,116.9L109.2,115.6L110.0,114.3L110.8,113.0L111.5,111.8L112.2,110.7L113.0,109.8L113.8,109.1L114.5,108.6L115.2,108.3L116.0,108.3L116.8,108.6L117.5,109.0L118.2,109.6L119.0,110.4L119.8,111.3L120.5,112.3L121.2,113.4L122.0,114.5L122.8,115.7L123.5,117.0L124.2,118.2L125.0,119.4L125.8,120.5L126.5,121.6L127.2,122.7L128.0,123.7L128.8,124.6L129.5,125.5L130.2,126.2L131.0,126.9L131.8,127.6L132.5,128.1L133.2,128.7L134.0,129.1L134.8,129.5L135.5,129.9L136.2,130.2L137.0,130.4L137.8,130.7L138.5,130.9L139.2,131.1L140.0,131.3L140.8,131.4L141.5,131.6L142.2,131.7L143.0,131.8L143.8,131.9L144.5,132.1L145.2,132.2L146.0,132.3L146.8,132.4L147.5,132.5L148.2,132.6L149.0,132.7L149.8,132.8" stroke="#0a7d0a" stroke-width="1.60" fill="none"/>
<path d="M190.2,134.9L191.0,134.9L191.8,134.9L192.5,135.0L193.2,135.0L194.0,135.1L194.8,135.1L195.5,135.2L196.2,135.2L197.0,135.3L197.8,135.3L198.5,135.4L199.2,135.4L200.0,135.5L200.8,135.5L201.5,135.6L202.2,135.6L203.0,135.7L203.8,135.8L204.5,135.9L205.2,135.9L206.0,136.0L206.8,136.1L207.5,136.2L208.2,136.2L209.0,136.3L209.8,136.4L210.5,136.4L211.2,136.5L212.0,136.5L212.8,136.5L213.5,136.5L214.2,136.4L215.0,136.2L215.8,136.0L216.5,135.7L217.2,135.3L218.0,134.8L218.8,134.1L219.5,133.2L220.2,132.2L221.0,130.9L221.8,129.4L222.5,127.7L223.2,125.7L224.0,123.5L224.8,121.0L225.5,118.3L226.2,115.5L227.0,112.5L227.8,109.4L228.5,106.3L229.2,103.2L230.0,100.3L230.8,97.6L231.5,95.2L232.2,93.2L233.0,91.6L233.8,90.4L234.5,89.8L235.2,89.8L236.0,90.3L236.8,91.3L237.5,92.8L238.2,94.8L239.0,97.2L239.8,99.9L240.5,102.8L241.2,105.9L242.0,109.0L242.8,112.2L243.5,115.3L244.2,118.2L245.0,121.0L245.8,123.6L246.5,125.9L247.2,128.0L248.0,129.9L248.8,131.5L249.5,132.9L250.2,134.1L251.0,135.1L251.8,135.9L252.5,136.6L253.2,137.2L254.0,137.6L254.8,138.0L255.5,138.3L256.2,138.5L257.0,138.7L257.8,138.9L258.5,139.0L259.2,139.2L260.0,139.3L260.8,139.4L261.5,139.5L262.2,139.5L263.0,139.6L263.8,139.7L264.5,139.8L265.2,139.9L266.0,140.0L266.8,140.1L267.5,140.1L268.2,140.2L269.0,140.3L269.3,140.3" stroke="#1414c8" stroke-width="1.60" fill="none"/>
<path d="M35.0,122.9L35.8,122.8L36.5,122.7L37.2,122.6L38.0,122.5L38.8,122.4L39.5,122.3L40.2,122.2L41.0,122.1L41.8,121.9L42.5,121.8L43.2,121.6L44.0,121.5L44.8,121.3L45.5,121.2L46.2,121.0L47.0,120.8L47.8,120.7L48.5,120.5L49.2,120.3L50.0,120.1L50.8,119.9L51.5,119.7L52.2,119.5L53.0,119.3L53.8,119.1L54.5,118.9L55.2,118.7L56.0,118.5L56.8,118.3L57.5,118.0L58.2,117.8L59.0,117.6L59.8,117.4L60.5,117.2L61.2,117.0L62.0,116.8L62.8,116.6L63.5,116.4L64.2,116.2L65.0,116.0L65.8,115.9L66.5,115.7L67.2,115.6L68.0,115.4L68.8,115.3L69.5,115.2L70.2,115.1L71.0,115.0L71.8,114.9L72.5,114.9L73.2,114.9L74.0,114.8L74.8,114.8L75.5,114.9L76.2,114.9L77.0,115.0L77.8,115.0L78.5,115.1L79.2,115.2L80.0,115.3L80.8,115.5L81.5,115.6L82.2,115.8L83.0,116.0L83.8,116.2L84.5,116.4L85.2,116.7L86.0,116.9L86.8,117.2L87.5,117.4L88.2,117.7L89.0,118.0L89.8,118.2L90.5,118.5L91.2,118.8L92.0,119.1L92.8,119.4L93.5,119.7L94.2,120.1L95.0,120.4L95.8,120.7L96.5,121.0L97.2,121.3L98.0,121.6L98.8,121.9L99.5,122.3L100.2,122.6L101.0,122.9L101.8,123.2L102.5,123.5L103.2,123.8L104.0,124.1L104.8,124.3L105.5,124.6L106.2,124.9L107.0,125.2L107.8,125.4L108.5,125.7L109.2,125.9L110.0,126.2L110.8,126.4L111.5,126.7L112.2,126.9L113.0,127.1L113.8,127.3L114.5,127.5L115.2,127.7L116.0,127.9L116.8,128.1L117.5,128.3L118.2,128.5L119.0,128.7L119.8,128.8L120.5,129.0L121.2,129.1L122.0,129.3L122.8,129.4L123.5,129.6L124.2,129.7L125.0,129.8L125.8,130.0L126.5,130.1L127.2,130.2L128.0,130.3L128.8,130.4L129.5,130.5L130.2,130.6L131.0,130.7L131.8,130.8L132.5,130.9L133.2,131.0L134.0,131.1L134.8,131.1L135.5,131.2L136.2,131.3L137.0,131.4L137.8,131.4L138.5,131.5L139.2,131.6L140.0,131.6L140.8,131.7L141.5,131.8L142.2,131.8L143.0,131.9L143.8,131.9L144.5,132.0L145.2,132.0L146.0,132.1L146.8,132.1L147.5,132.2L148.2,132.2L149.0,132.3L149.8,132.3L150.5,132.4L151.2,132.4L152.0,132.5L152.8,132.5L153.5,132.6L154.2,132.6L155.0,132.7L155.8,132.7L156.5,132.8L157.2,132.8L158.0,132.9L158.8,132.9L159.5,132.9L160.2,133.0L161.0,133.0L161.8,133.1L162.5,133.1L163.2,133.2L164.0,133.2L164.8,133.2L165.5,133.3L166.2,133.3L167.0,133.4L167.8,133.4L168.5,133.5L169.2,133.5L170.0,133.6L170.8,133.6L171.5,133.6L172.2,133.7L173.0,133.7L173.8,133.8L174.5,133.8L175.2,133.9L176.0,133.9L176.8,133.9L177.5,134.0L178.2,134.0L179.0,134.1L179.8,134.1L180.5,134.1L181.2,134.2L182.0,134.2L182.8,134.3L183.5,134.3L184.2,134.3L185.0,134.4L185.8,134.4L186.5,134.5L187.2,134.5L188.0,134.5L188.8,134.6L189.5,134.6L190.2,134.7L191.0,134.7L191.8,134.8L192.5,134.8L193.2,134.8L194.0,134.9L194.8,134.9L195.5,135.0L196.2,135.0L197.0,135.1L197.8,135.1L198.5,135.2L199.2,135.2L200.0,135.3L200.8,135.4L201.5,135.4L202.2,135.5L203.0,135.6L203.8,135.6L204.5,135.7L205.2,135.8L206.0,135.9L206.8,136.0L207.5,136.0L208.2,136.1L209.0,136.2L209.8,136.3L210.5,136.4L211.2,136.5L212.0,136.6L212.8,136.7L213.5,136.8L214.2,136.9L215.0,137.0L215.8,137.1L216.5,137.1L217.2,137.2L218.0,137.3L218.8,137.4L219.5,137.5L220.2,137.5L221.0,137.6L221.8,137.6L222.5,137.7L223.2,137.8L224.0,137.8L224.8,137.8L225.5,137.9L226.2,137.9L227.0,137.9L227.8,137.9L228.5,138.0L229.2,138.0L230.0,138.0L230.8,138.0L231.5,138.0L232.2,138.0L233.0,138.0L233.8,138.1L234.5,138.1L235.2,138.1L236.0,138.1L236.8,138.1L237.5,138.1L238.2,138.1L239.0,138.1L239.8,138.1L240.5,138.2L241.2,138.2L242.0,138.2L242.8,138.2L243.5,138.2L244.2,138.3L245.0,138.3L245.8,138.3L246.5,138.3L247.2,138.4L248.0,138.4L248.8,138.4L249.5,138.5L250.2,138.5L251.0,138.6L251.8,138.6L252.5,138.7L253.2,138.7L254.0,138.8L254.8,138.8L255.5,138.9L256.2,138.9L257.0,139.0L257.8,139.1L258.5,139.1L259.2,139.2L260.0,139.3L260.8,139.3L261.5,139.4L262.2,139.5L263.0,139.6L263.8,139.7L264.5,139.7L265.2,139.8L266.0,139.9L266.8,140.0L267.5,140.1L268.2,140.2L269.0,140.2L269.3,140.3" stroke="#ff10ff" stroke-width="1.60" fill="none"/>
<path d="M35.0,180.8L35.8,180.7L36.5,180.6L37.2,180.5L38.0,180.4L38.8,180.2L39.5,180.1L40.2,180.0L41.0,179.8L41.8,179.7L42.5,179.6L43.2,179.4L44.0,179.3L44.8,179.1L45.5,179.0L46.2,178.8L47.0,178.6L47.8,178.5L48.5,178.3L49.2,178.1L50.0,178.0L50.8,177.8L51.5,177.7L52.2,177.5L53.0,177.3L53.8,177.2L54.5,177.0L55.2,176.8L56.0,176.7L56.8,176.5L57.5,176.4L58.2,176.2L59.0,176.1L59.8,176.0L60.5,175.8L61.2,175.7L62.0,175.6L62.8,175.5L63.5,175.4L64.2,175.4L65.0,175.3L65.8,175.2L66.5,175.2L67.2,175.1L68.0,175.1L68.8,175.1L69.5,175.1L70.2,175.1L71.0,175.1L71.8,175.2L72.5,175.2L73.2,175.3L74.0,175.4L74.8,175.5L75.5,175.6L76.2,175.7L77.0,175.8L77.8,176.0L78.5,176.1L79.2,176.3L80.0,176.4L80.8,176.6L81.5,176.8L82.2,177.0L83.0,177.2L83.8,177.4L84.5,177.6L85.2,177.8L86.0,178.0L86.8,178.2L87.5,178.4L88.2,178.6L89.0,178.8L89.8,179.0L90.5,179.1L91.2,179.2L92.0,179.4L92.8,179.4L93.5,179.5L94.2,179.5L95.0,179.5L95.8,179.4L96.5,179.3L97.2,179.1L98.0,178.9L98.8,178.6L99.5,178.3L100.2,177.9L101.0,177.5L101.8,177.0L102.5,176.5L103.2,176.0L104.0,175.4L104.8,174.9L105.5,174.4L106.2,173.9L107.0,173.5L107.8,173.1L108.5,172.9L109.2,172.7L110.0,172.7L110.8,172.8L111.5,173.1L112.2,173.4L113.0,174.0L113.8,174.6L114.5,175.3L115.2,176.2L116.0,177.0L116.8,177.9L117.5,178.9L118.2,179.8L119.0,180.7L119.8,181.6L120.5,182.5L121.2,183.3L122.0,184.0L122.8,184.7L123.5,185.4L124.2,185.9L125.0,186.4L125.8,186.9L126.5,187.3L127.2,187.6L128.0,187.9L128.8,188.2L129.5,188.4L130.2,188.6L131.0,188.7L131.8,188.9L132.5,189.0L133.2,189.1L134.0,189.1L134.8,189.2L135.5,189.2L136.2,189.2L137.0,189.3L137.8,189.3L138.5,189.3L139.2,189.3L140.0,189.3L140.8,189.3L141.5,189.2L142.2,189.2L143.0,189.2L143.8,189.1L144.5,189.1L145.2,189.0L146.0,189.0L146.8,188.9L147.5,188.8L148.2,188.8L149.0,188.7L149.8,188.6L150.5,188.5L151.2,188.4L152.0,188.3L152.8,188.2L153.5,188.1L154.2,188.0L155.0,187.9L155.8,187.7L156.5,187.6L157.2,187.5L158.0,187.3L158.8,187.2L159.5,187.0L160.2,186.8L161.0,186.6L161.8,186.5L162.5,186.3L163.2,186.1L164.0,186.0L164.8,185.8L165.5,185.6L166.2,185.4L167.0,185.2L167.8,185.0L168.5,184.8L169.2,184.6L170.0,184.3L170.8,184.1L171.5,183.9L172.2,183.6L173.0,183.3L173.8,183.0L174.5,182.7L175.2,182.4L176.0,182.1L176.8,181.8L177.5,181.4L178.2,181.1L179.0,180.7L179.8,180.4L180.5,180.0L181.2,179.6L182.0,179.2L182.8,178.9L183.5,178.5L184.2,178.1L185.0,177.7L185.8,177.4L186.5,177.0L187.2,176.7L188.0,176.4L188.8,176.0L189.5,175.8L190.2,175.5L191.0,175.2L191.8,175.0L192.5,174.8L193.2,174.6L194.0,174.5L194.8,174.4L195.5,174.3L196.2,174.2L197.0,174.2L197.8,174.2L198.5,174.3L199.2,174.4L200.0,174.5L200.8,174.6L201.5,174.8L202.2,175.0L203.0,175.2L203.8,175.5L204.5,175.8L205.2,176.1L206.0,176.5L206.8,176.8L207.5,177.2L208.2,177.6L209.0,178.1L209.8,178.5L210.5,178.9L211.2,179.4L212.0,179.8L212.8,180.2L213.5,180.5L214.2,180.8L215.0,181.0L215.8,181.1L216.5,181.1L217.2,180.9L218.0,180.6L218.8,180.1L219.5,179.4L220.2,178.4L221.0,177.3L221.8,176.0L222.5,174.4L223.2,172.8L224.0,171.0L224.8,169.1L225.5,167.3L226.2,165.6L227.0,164.0L227.8,162.7L228.5,161.6L229.2,160.9L230.0,160.7L230.8,160.9L231.5,161.5L232.2,162.5L233.0,163.9L233.8,165.7L234.5,167.7L235.2,170.0L236.0,172.4L236.8,174.8L237.5,177.3L238.2,179.7L239.0,182.0L239.8,184.1L240.5,186.1L241.2,187.8L242.0,189.4L242.8,190.8L243.5,191.9L244.2,192.9L245.0,193.7L245.8,194.4L246.5,195.0L247.2,195.4L248.0,195.8L248.8,196.0L249.5,196.3L250.2,196.4L251.0,196.6L251.8,196.7L252.5,196.8L253.2,196.9L254.0,196.9L254.8,197.0L255.5,197.1L256.2,197.1L257.0,197.1L257.8,197.2L258.5,197.2L259.2,197.3L260.0,197.3L260.8,197.3L261.5,197.4L262.2,197.4L263.0,197.4L263.8,197.4L264.5,197.5L265.2,197.5L266.0,197.5L266.8,197.6L267.5,197.6L268.2,197.6L269.0,197.6L269.3,197.6" stroke="#ffe0da" stroke-width="2.8" fill="none"/>
<path d="M35.0,181.5L35.8,181.4L36.5,181.3L37.2,181.2L38.0,181.1L38.8,180.9L39.5,180.8L40.2,180.7L41.0,180.5L41.8,180.4L42.5,180.3L43.2,180.1L44.0,180.0L44.8,179.8L45.5,179.7L46.2,179.5L47.0,179.3L47.8,179.2L48.5,179.0L49.2,178.8L50.0,178.7L50.8,178.5L51.5,178.4L52.2,178.2L53.0,178.0L53.8,177.9L54.5,177.7L55.2,177.5L56.0,177.4L56.8,177.2L57.5,177.1L58.2,176.9L59.0,176.8L59.8,176.7L60.5,176.5L61.2,176.4L62.0,176.3L62.8,176.2L63.5,176.1L64.2,176.1L65.0,176.0L65.8,175.9L66.5,175.9L67.2,175.8L68.0,175.8L68.8,175.8L69.5,175.8L70.2,175.8L71.0,175.8L71.8,175.9L72.5,175.9L73.2,176.0L74.0,176.1L74.8,176.2L75.5,176.3L76.2,176.4L77.0,176.5L77.8,176.7L78.5,176.8L79.2,177.0L80.0,177.1L80.8,177.3L81.5,177.5L82.2,177.7L83.0,177.9L83.8,178.1L84.5,178.3L85.2,178.5L86.0,178.7L86.8,178.9L87.5,179.1L88.2,179.3L89.0,179.5L89.8,179.7L90.5,179.8L91.2,179.9L92.0,180.1L92.8,180.1L93.5,180.2L94.2,180.2L95.0,180.2L95.8,180.1L96.5,180.0L97.2,179.8L98.0,179.6L98.8,179.3L99.5,179.0L100.2,178.6L101.0,178.2L101.8,177.7L102.5,177.2L103.2,176.7L104.0,176.1L104.8,175.6L105.5,175.1L106.2,174.6L107.0,174.2L107.8,173.8L108.5,173.6L109.2,173.4L110.0,173.4L110.8,173.5L111.5,173.8L112.2,174.1L113.0,174.7L113.8,175.3L114.5,176.0L115.2,176.9L116.0,177.7L116.8,178.6L117.5,179.6L118.2,180.5L119.0,181.4L119.8,182.3L120.5,183.2L121.2,184.0L122.0,184.7L122.8,185.4L123.5,186.1L124.2,186.6L125.0,187.1L125.8,187.6L126.5,188.0L127.2,188.3L128.0,188.6L128.8,188.9L129.5,189.1L130.2,189.3L131.0,189.4L131.8,189.6L132.5,189.7L133.2,189.8L134.0,189.8L134.8,189.9L135.5,189.9L136.2,189.9L137.0,190.0L137.8,190.0L138.5,190.0L139.2,190.0L140.0,190.0L140.8,190.0L141.5,189.9L142.2,189.9L143.0,189.9L143.8,189.8L144.5,189.8L145.2,189.7L146.0,189.7L146.8,189.6L147.5,189.5L148.2,189.5L149.0,189.4L149.8,189.3L150.5,189.2L151.2,189.1L152.0,189.0L152.8,188.9L153.5,188.8L154.2,188.7L155.0,188.6L155.8,188.4L156.5,188.3L157.2,188.2L158.0,188.0L158.8,187.9L159.5,187.7L160.2,187.5L161.0,187.3L161.8,187.2L162.5,187.0L163.2,186.8L164.0,186.7L164.8,186.5L165.5,186.3L166.2,186.1L167.0,185.9L167.8,185.7L168.5,185.5L169.2,185.3L170.0,185.0L170.8,184.8L171.5,184.6L172.2,184.3L173.0,184.0L173.8,183.7L174.5,183.4L175.2,183.1L176.0,182.8L176.8,182.5L177.5,182.1L178.2,181.8L179.0,181.4L179.8,181.1L180.5,180.7L181.2,180.3L182.0,179.9L182.8,179.6L183.5,179.2L184.2,178.8L185.0,178.4L185.8,178.1L186.5,177.7L187.2,177.4L188.0,177.1L188.8,176.7L189.5,176.5L190.2,176.2L191.0,175.9L191.8,175.7L192.5,175.5L193.2,175.3L194.0,175.2L194.8,175.1L195.5,175.0L196.2,174.9L197.0,174.9L197.8,174.9L198.5,175.0L199.2,175.1L200.0,175.2L200.8,175.3L201.5,175.5L202.2,175.7L203.0,175.9L203.8,176.2L204.5,176.5L205.2,176.8L206.0,177.2L206.8,177.5L207.5,177.9L208.2,178.3L209.0,178.8L209.8,179.2L210.5,179.6L211.2,180.1L212.0,180.5L212.8,180.9L213.5,181.2L214.2,181.5L215.0,181.7L215.8,181.8L216.5,181.8L217.2,181.6L218.0,181.3L218.8,180.8L219.5,180.1L220.2,179.1L221.0,178.0L221.8,176.7L222.5,175.1L223.2,173.5L224.0,171.7L224.8,169.8L225.5,168.0L226.2,166.3L227.0,164.7L227.8,163.4L228.5,162.3L229.2,161.6L230.0,161.4L230.8,161.6L231.5,162.2L232.2,163.2L233.0,164.6L233.8,166.4L234.5,168.4L235.2,170.7L236.0,173.1L236.8,175.5L237.5,178.0L238.2,180.4L239.0,182.7L239.8,184.8L240.5,186.8L241.2,188.5L242.0,190.1L242.8,191.5L243.5,192.6L244.2,193.6L245.0,194.4L245.8,195.1L246.5,195.7L247.2,196.1L248.0,196.5L248.8,196.7L249.5,197.0L250.2,197.1L251.0,197.3L251.8,197.4L252.5,197.5L253.2,197.6L254.0,197.6L254.8,197.7L255.5,197.8L256.2,197.8L257.0,197.8L257.8,197.9L258.5,197.9L259.2,198.0L260.0,198.0L260.8,198.0L261.5,198.1L262.2,198.1L263.0,198.1L263.8,198.1L264.5,198.2L265.2,198.2L266.0,198.2L266.8,198.3L267.5,198.3L268.2,198.3L269.0,198.3L269.3,198.3" stroke="#ff1010" stroke-width="1.60" fill="none"/>
<path d="M80.0,187.9L80.8,187.9L81.5,188.0L82.2,188.0L83.0,188.0L83.8,188.0L84.5,188.0L85.2,188.0L86.0,188.0L86.8,188.0L87.5,188.0L88.2,188.0L89.0,188.0L89.8,187.9L90.5,187.9L91.2,187.8L92.0,187.7L92.8,187.5L93.5,187.4L94.2,187.2L95.0,186.9L95.8,186.7L96.5,186.3L97.2,185.9L98.0,185.5L98.8,185.0L99.5,184.5L100.2,183.9L101.0,183.3L101.8,182.6L102.5,182.0L103.2,181.3L104.0,180.6L104.8,179.9L105.5,179.2L106.2,178.6L107.0,178.0L107.8,177.6L108.5,177.2L109.2,176.9L110.0,176.8L110.8,176.8L111.5,176.9L112.2,177.2L113.0,177.6L113.8,178.2L114.5,178.8L115.2,179.6L116.0,180.4L116.8,181.2L117.5,182.1L118.2,183.0L119.0,183.8L119.8,184.7L120.5,185.5L121.2,186.3L122.0,187.0L122.8,187.6L123.5,188.2L124.2,188.8L125.0,189.3L125.8,189.7L126.5,190.1L127.2,190.4L128.0,190.7L128.8,191.0L129.5,191.2L130.2,191.3L131.0,191.5L131.8,191.6L132.5,191.7L133.2,191.8L134.0,191.9L134.8,191.9L135.5,192.0L136.2,192.0L137.0,192.0L137.8,192.0L138.5,192.0L139.2,192.0L140.0,192.0" stroke="#0a7d0a" stroke-width="1.60" fill="none"/>
<path d="M35.0,186.1L35.8,186.1L36.5,186.1L37.2,186.2L38.0,186.2L38.8,186.2L39.5,186.3L40.2,186.3L41.0,186.3L41.8,186.4L42.5,186.4L43.2,186.4L44.0,186.5L44.8,186.5L45.5,186.5L46.2,186.6L47.0,186.6L47.8,186.6L48.5,186.7L49.2,186.7L50.0,186.7L50.8,186.8L51.5,186.8L52.2,186.8L53.0,186.9L53.8,186.9L54.5,186.9L55.2,187.0L56.0,187.0L56.8,187.0L57.5,187.1L58.2,187.1L59.0,187.1L59.8,187.2L60.5,187.2L61.2,187.2L62.0,187.3L62.8,187.3L63.5,187.3L64.2,187.4L65.0,187.4L65.8,187.4L66.5,187.5L67.2,187.5L68.0,187.5L68.8,187.6L69.5,187.6L70.2,187.7L71.0,187.7L71.8,187.7L72.5,187.8L73.2,187.8L74.0,187.8L74.8,187.9L75.5,187.9L76.2,187.9L77.0,188.0L77.8,188.0L78.5,188.0L79.2,188.1L80.0,188.1L80.8,188.1L81.5,188.2L82.2,188.2L83.0,188.3L83.8,188.3L84.5,188.3L85.2,188.4L86.0,188.4L86.8,188.4L87.5,188.5L88.2,188.5L89.0,188.5L89.8,188.6L90.5,188.6L91.2,188.7L92.0,188.7L92.8,188.7L93.5,188.8L94.2,188.8L95.0,188.9L95.8,188.9L96.5,188.9L97.2,189.0L98.0,189.0L98.8,189.1L99.5,189.1L100.2,189.2L101.0,189.2L101.8,189.3L102.5,189.3L103.2,189.4L104.0,189.5L104.8,189.5L105.5,189.6L106.2,189.7L107.0,189.8L107.8,189.8L108.5,189.9L109.2,190.0L110.0,190.1L110.8,190.2L111.5,190.2L112.2,190.3L113.0,190.4L113.8,190.5L114.5,190.6L115.2,190.7L116.0,190.8L116.8,190.9L117.5,191.0L118.2,191.0L119.0,191.1L119.8,191.2L120.5,191.3L121.2,191.4L122.0,191.4L122.8,191.5L123.5,191.6L124.2,191.7L125.0,191.7L125.8,191.8L126.5,191.9L127.2,191.9L128.0,192.0L128.8,192.0L129.5,192.1L130.2,192.1L131.0,192.2L131.8,192.2L132.5,192.2L133.2,192.2L134.0,192.3L134.8,192.3L135.5,192.3L136.2,192.3L137.0,192.3L137.8,192.3L138.5,192.3L139.2,192.2L140.0,192.2L140.8,192.2L141.5,192.2L142.2,192.2L143.0,192.2L143.8,192.1L144.5,192.1L145.2,192.1L146.0,192.0L146.8,192.0L147.5,192.0L148.2,191.9L149.0,191.9L149.8,191.8L150.5,191.8L151.2,191.7L152.0,191.7L152.8,191.6L153.5,191.5L154.2,191.5L155.0,191.4L155.8,191.3L156.5,191.2L157.2,191.2L158.0,191.1L158.8,191.0L159.5,190.8L160.2,190.7L161.0,190.6L161.8,190.5L162.5,190.4L163.2,190.2L164.0,190.1L164.8,190.0L165.5,189.8L166.2,189.7L167.0,189.5L167.8,189.4L168.5,189.2L169.2,189.0L170.0,188.8L170.8,188.6L171.5,188.4L172.2,188.2L173.0,187.9L173.8,187.6L174.5,187.3L175.2,187.0L176.0,186.7L176.8,186.4L177.5,186.1L178.2,185.7L179.0,185.3L179.8,185.0L180.5,184.6L181.2,184.2L182.0,183.8L182.8,183.4L183.5,183.0L184.2,182.5L185.0,182.1L185.8,181.7L186.5,181.3L187.2,180.9L188.0,180.5L188.8,180.2L189.5,179.8L190.2,179.5L191.0,179.2L191.8,178.9L192.5,178.6L193.2,178.3L194.0,178.1L194.8,177.9L195.5,177.8L196.2,177.6L197.0,177.5L197.8,177.5L198.5,177.4L199.2,177.4L200.0,177.5L200.8,177.5L201.5,177.6L202.2,177.7L203.0,177.9L203.8,178.0L204.5,178.2L205.2,178.5L206.0,178.8L206.8,179.0L207.5,179.4L208.2,179.7L209.0,180.1L209.8,180.5L210.5,180.9L211.2,181.3L212.0,181.7L212.8,182.2L213.5,182.7L214.2,183.1L215.0,183.6L215.8,184.1L216.5,184.6L217.2,185.1L218.0,185.6L218.8,186.1L219.5,186.6L220.2,187.1L221.0,187.6L221.8,188.1L222.5,188.6L223.2,189.1L224.0,189.5L224.8,190.0L225.5,190.4L226.2,190.9L227.0,191.3L227.8,191.6L228.5,192.0L229.2,192.4L230.0,192.7L230.8,193.0L231.5,193.3L232.2,193.6L233.0,193.9L233.8,194.1L234.5,194.3L235.2,194.6L236.0,194.8L236.8,195.0L237.5,195.1L238.2,195.3L239.0,195.5L239.8,195.6L240.5,195.7L241.2,195.9L242.0,196.0L242.8,196.1L243.5,196.2L244.2,196.3L245.0,196.4L245.8,196.5L246.5,196.6L247.2,196.7L248.0,196.8L248.8,196.9L249.5,197.0L250.2,197.0L251.0,197.1L251.8,197.2L252.5,197.2L253.2,197.3L254.0,197.3L254.8,197.4L255.5,197.5L256.2,197.5L257.0,197.6L257.8,197.6L258.5,197.7L259.2,197.7L260.0,197.8L260.8,197.8L261.5,197.9L262.2,197.9L263.0,198.0L263.8,198.0L264.5,198.1L265.2,198.1L266.0,198.2L266.8,198.3L267.5,198.3L268.2,198.4L269.0,198.5L269.3,198.5" stroke="#7f7f12" stroke-width="1.60" fill="none"/>
<path d="M207.5,195.7L208.2,195.8L209.0,195.8L209.8,195.8L210.5,195.9L211.2,195.9L212.0,195.8L212.8,195.8L213.5,195.7L214.2,195.5L215.0,195.2L215.8,194.8L216.5,194.3L217.2,193.7L218.0,192.9L218.8,191.9L219.5,190.7L220.2,189.2L221.0,187.6L221.8,185.8L222.5,183.8L223.2,181.7L224.0,179.4L224.8,177.1L225.5,174.9L226.2,172.7L227.0,170.7L227.8,168.9L228.5,167.5L229.2,166.5L230.0,165.9L230.8,165.8L231.5,166.1L232.2,166.9L233.0,168.0L233.8,169.5L234.5,171.3L235.2,173.4L236.0,175.6L236.8,177.8L237.5,180.1L238.2,182.4L239.0,184.5L239.8,186.5L240.5,188.3L241.2,190.0L242.0,191.4L242.8,192.7L243.5,193.7L244.2,194.6L245.0,195.4L245.8,196.0L246.5,196.5L247.2,196.8L248.0,197.1L248.8,197.4L249.5,197.6L250.2,197.7L251.0,197.8L251.8,197.9L252.5,198.0L253.2,198.1L254.0,198.2L254.8,198.2L255.5,198.3L256.2,198.4L257.0,198.4L257.8,198.5L258.5,198.5L259.2,198.6L260.0,198.7L260.8,198.7L261.5,198.8L262.2,198.9L263.0,198.9L263.8,199.0L264.5,199.1L265.2,199.2L266.0,199.2L266.8,199.3L267.5,199.4L268.2,199.5L269.0,199.5L269.3,199.6" stroke="#1414c8" stroke-width="1.60" fill="none"/>
<path d="M35.0,181.7L35.8,181.6L36.5,181.5L37.2,181.4L38.0,181.3L38.8,181.1L39.5,181.0L40.2,180.9L41.0,180.7L41.8,180.6L42.5,180.4L43.2,180.3L44.0,180.1L44.8,180.0L45.5,179.8L46.2,179.7L47.0,179.5L47.8,179.3L48.5,179.2L49.2,179.0L50.0,178.9L50.8,178.7L51.5,178.5L52.2,178.4L53.0,178.2L53.8,178.0L54.5,177.9L55.2,177.7L56.0,177.6L56.8,177.4L57.5,177.3L58.2,177.1L59.0,177.0L59.8,176.9L60.5,176.8L61.2,176.7L62.0,176.6L62.8,176.5L63.5,176.4L64.2,176.3L65.0,176.2L65.8,176.2L66.5,176.1L67.2,176.1L68.0,176.1L68.8,176.1L69.5,176.1L70.2,176.1L71.0,176.2L71.8,176.2L72.5,176.3L73.2,176.4L74.0,176.5L74.8,176.6L75.5,176.7L76.2,176.8L77.0,177.0L77.8,177.1L78.5,177.3L79.2,177.5L80.0,177.7L80.8,177.9L81.5,178.1L82.2,178.3L83.0,178.5L83.8,178.7L84.5,179.0L85.2,179.2L86.0,179.4L86.8,179.7L87.5,180.0L88.2,180.2L89.0,180.5L89.8,180.7L90.5,181.0L91.2,181.2L92.0,181.5L92.8,181.8L93.5,182.0L94.2,182.3L95.0,182.6L95.8,182.8L96.5,183.1L97.2,183.4L98.0,183.6L98.8,183.9L99.5,184.2L100.2,184.4L101.0,184.7L101.8,184.9L102.5,185.2L103.2,185.4L104.0,185.6L104.8,185.9L105.5,186.1L106.2,186.4L107.0,186.6L107.8,186.8L108.5,187.0L109.2,187.2L110.0,187.4L110.8,187.6L111.5,187.8L112.2,188.0L113.0,188.2L113.8,188.4L114.5,188.6L115.2,188.8L116.0,189.0L116.8,189.1L117.5,189.3L118.2,189.4L119.0,189.6L119.8,189.8L120.5,189.9L121.2,190.0L122.0,190.2L122.8,190.3L123.5,190.4L124.2,190.6L125.0,190.7L125.8,190.8L126.5,190.9L127.2,191.0L128.0,191.1L128.8,191.2L129.5,191.3L130.2,191.3L131.0,191.4L131.8,191.5L132.5,191.6L133.2,191.6L134.0,191.7L134.8,191.8L135.5,191.8L136.2,191.9L137.0,192.0L137.8,192.0L138.5,192.1L139.2,192.2L140.0,192.2L140.8,192.3L141.5,192.3L142.2,192.4L143.0,192.4L143.8,192.5L144.5,192.5L145.2,192.6L146.0,192.6L146.8,192.7L147.5,192.7L148.2,192.8L149.0,192.8L149.8,192.8L150.5,192.9L151.2,192.9L152.0,193.0L152.8,193.0L153.5,193.0L154.2,193.1L155.0,193.1L155.8,193.1L156.5,193.2L157.2,193.2L158.0,193.2L158.8,193.3L159.5,193.3L160.2,193.3L161.0,193.4L161.8,193.4L162.5,193.4L163.2,193.5L164.0,193.5L164.8,193.5L165.5,193.5L166.2,193.6L167.0,193.6L167.8,193.6L168.5,193.6L169.2,193.7L170.0,193.7L170.8,193.7L171.5,193.7L172.2,193.7L173.0,193.8L173.8,193.8L174.5,193.8L175.2,193.8L176.0,193.9L176.8,193.9L177.5,193.9L178.2,193.9L179.0,193.9L179.8,193.9L180.5,194.0L181.2,194.0L182.0,194.0L182.8,194.0L183.5,194.0L184.2,194.0L185.0,194.1L185.8,194.1L186.5,194.1L187.2,194.1L188.0,194.1L188.8,194.1L189.5,194.2L190.2,194.2L191.0,194.2L191.8,194.2L192.5,194.2L193.2,194.2L194.0,194.2L194.8,194.2L195.5,194.3L196.2,194.3L197.0,194.3L197.8,194.3L198.5,194.3L199.2,194.3L200.0,194.3L200.8,194.3L201.5,194.4L202.2,194.4L203.0,194.4L203.8,194.5L204.5,194.6L205.2,194.6L206.0,194.7L206.8,194.8L207.5,194.8L208.2,194.9L209.0,195.0L209.8,195.1L210.5,195.2L211.2,195.3L212.0,195.4L212.8,195.5L213.5,195.6L214.2,195.7L215.0,195.8L215.8,195.9L216.5,196.0L217.2,196.0L218.0,196.1L218.8,196.2L219.5,196.3L220.2,196.4L221.0,196.5L221.8,196.5L222.5,196.6L223.2,196.6L224.0,196.7L224.8,196.7L225.5,196.8L226.2,196.8L227.0,196.8L227.8,196.9L228.5,196.9L229.2,196.9L230.0,196.9L230.8,196.9L231.5,196.9L232.2,197.0L233.0,197.0L233.8,197.0L234.5,197.0L235.2,197.0L236.0,197.0L236.8,197.1L237.5,197.1L238.2,197.1L239.0,197.1L239.8,197.1L240.5,197.1L241.2,197.1L242.0,197.2L242.8,197.2L243.5,197.2L244.2,197.2L245.0,197.2L245.8,197.3L246.5,197.3L247.2,197.3L248.0,197.4L248.8,197.4L249.5,197.4L250.2,197.5L251.0,197.5L251.8,197.6L252.5,197.6L253.2,197.7L254.0,197.7L254.8,197.8L255.5,197.8L256.2,197.9L257.0,197.9L257.8,198.0L258.5,198.1L259.2,198.1L260.0,198.2L260.8,198.3L261.5,198.3L262.2,198.4L263.0,198.5L263.8,198.5L264.5,198.6L265.2,198.7L266.0,198.8L266.8,198.9L267.5,198.9L268.2,199.0L269.0,199.1L269.3,199.1" stroke="#ff10ff" stroke-width="1.60" fill="none"/>
<path d="M306.3,65.5L307.1,65.5L307.8,65.5L308.6,65.5L309.3,65.6L310.1,65.6L310.8,65.6L311.6,65.6L312.3,65.6L313.1,65.6L313.8,65.6L314.6,65.6L315.3,65.6L316.1,65.6L316.8,65.6L317.6,65.6L318.3,65.6L319.1,65.6L319.8,65.6L320.6,65.7L321.3,65.7L322.1,65.7L322.8,65.7L323.6,65.7L324.3,65.7L325.1,65.7L325.8,65.7L326.6,65.7L327.3,65.7L328.1,65.7L328.8,65.7L329.6,65.7L330.3,65.7L331.1,65.7L331.8,65.7L332.6,65.7L333.3,65.7L334.1,65.7L334.8,65.7L335.6,65.8L336.3,65.8L337.1,65.8L337.8,65.8L338.6,65.8L339.3,65.8L340.1,65.8L340.8,65.8L341.6,65.8L342.3,65.8L343.1,65.8L343.8,65.8L344.6,65.8L345.3,65.8L346.1,65.8L346.8,65.8L347.6,65.8L348.3,65.8L349.1,65.8L349.8,65.8L350.6,65.8L351.3,65.8L352.1,65.8L352.8,65.8L353.6,65.8L354.3,65.8L355.1,65.8L355.8,65.7L356.6,65.7L357.3,65.7L358.1,65.7L358.8,65.7L359.6,65.7L360.3,65.7L361.1,65.6L361.8,65.6L362.6,65.6L363.3,65.5L364.1,65.5L364.8,65.5L365.6,65.4L366.3,65.4L367.1,65.3L367.8,65.2L368.6,65.2L369.3,65.1L370.1,65.0L370.8,64.9L371.6,64.8L372.3,64.7L373.1,64.6L373.8,64.5L374.6,64.3L375.3,64.2L376.1,64.0L376.8,63.9L377.6,63.7L378.3,63.5L379.1,63.3L379.8,63.1L380.6,62.9L381.3,62.6L382.1,62.4L382.8,62.1L383.6,61.9L384.3,61.6L385.1,61.3L385.8,61.0L386.6,60.7L387.3,60.4L388.1,60.1L388.8,59.7L389.6,59.4L390.3,59.0L391.1,58.7L391.8,58.3L392.6,57.9L393.3,57.5L394.1,57.1L394.8,56.7L395.6,56.2L396.3,55.8L397.1,55.4L397.8,54.9L398.6,54.4L399.3,53.9L400.1,53.4L400.8,52.9L401.6,52.4L402.3,51.8L403.1,51.2L403.8,50.6L404.6,50.0L405.3,49.3L406.1,48.6L406.8,47.9L407.6,47.2L408.3,46.4L409.1,45.6L409.8,44.7L410.6,43.9L411.3,43.0L412.1,42.0L412.8,41.1L413.6,40.1L414.3,39.0L415.1,38.0L415.8,36.9L416.6,35.8L417.3,34.8L418.1,33.7L418.8,32.6L419.6,31.5L420.3,30.4L421.1,29.4L421.8,28.4L422.6,27.4L423.3,26.5L424.1,25.6L424.8,24.9L425.6,24.1L426.3,23.5L427.1,23.0L427.8,22.5L428.6,22.2L429.3,21.9L430.1,21.8L430.8,21.8L431.6,21.8L432.3,22.1L433.1,22.4L433.8,22.9L434.6,23.5L435.3,24.2L436.1,25.1L436.8,26.1L437.6,27.1L438.3,28.3L439.1,29.6L439.8,30.9L440.6,32.3L441.3,33.7L442.1,35.2L442.8,36.8L443.6,38.3L444.3,39.9L445.1,41.4L445.8,43.0L446.6,44.5L447.3,46.0L448.1,47.4L448.8,48.8L449.6,50.2L450.3,51.5L451.1,52.7L451.8,53.9L452.6,55.0L453.3,56.1L454.1,57.1L454.8,58.0L455.6,58.8L456.3,59.6L457.1,60.4L457.8,61.0L458.6,61.6L459.3,62.2L460.1,62.7L460.8,63.1L461.6,63.5L462.3,63.9L463.1,64.2L463.8,64.5L464.6,64.8L465.3,65.0L466.1,65.2L466.8,65.4L467.6,65.5L468.3,65.7L469.1,65.8L469.8,65.9L470.6,66.0L471.3,66.0L472.1,66.1L472.8,66.2L473.6,66.2L474.3,66.2L475.1,66.3L475.8,66.3L476.6,66.3L477.3,66.4L478.1,66.4L478.8,66.4L479.6,66.4L480.3,66.4L481.1,66.4L481.8,66.5L482.6,66.5L483.3,66.5L484.1,66.5L484.8,66.5L485.6,66.5L486.3,66.5L487.1,66.5L487.8,66.5L488.6,66.5L489.3,66.5L490.1,66.6L490.8,66.6L491.6,66.6L492.3,66.6L493.1,66.6L493.8,66.6L494.6,66.6L495.3,66.6L496.1,66.6L496.8,66.6L497.6,66.6L498.3,66.6L499.1,66.7L499.8,66.7L500.6,66.7L501.3,66.7L502.1,66.7L502.8,66.7L503.6,66.7L504.3,66.7L505.1,66.7L505.8,66.7L506.6,66.7L507.3,66.7L508.1,66.8L508.8,66.8L509.6,66.8L510.3,66.8L511.1,66.8L511.8,66.8L512.5,66.8L513.3,66.8L514.0,66.8L514.8,66.8L515.5,66.8L516.3,66.9L517.0,66.9L517.8,66.9L518.5,66.9L519.3,66.9L520.0,66.9L520.8,66.9L521.5,66.9L522.3,66.9L523.0,66.9L523.8,66.9L524.5,66.9L525.3,67.0L526.0,67.0L526.8,67.0L527.5,67.0L528.3,67.0L528.4,67.0" stroke="#ff1010" stroke-width="1.60" fill="none"/>
<path d="M394.1,56.5L394.8,56.1L395.6,55.7L396.3,55.2L397.1,54.7L397.8,54.3L398.6,53.8L399.3,53.2L400.1,52.7L400.8,52.2L401.6,51.6L402.3,51.0L403.1,50.4L403.8,49.7L404.6,49.1L405.3,48.4L406.1,47.7L406.8,46.9L407.6,46.1L408.3,45.3L409.1,44.4L409.8,43.6L410.6,42.6L411.3,41.7L412.1,40.7L412.8,39.7L413.6,38.7L414.3,37.6L415.1,36.6L415.8,35.5L416.6,34.4L417.3,33.3L418.1,32.2L418.8,31.1L419.6,30.1L420.3,29.0L421.1,28.1L421.8,27.1L422.6,26.2L423.3,25.4L424.1,24.6L424.8,24.0L425.6,23.4L426.3,22.9L427.1,22.5L427.8,22.2L428.6,22.0L429.3,21.9L430.1,21.8L430.8,21.8" stroke="#201010" stroke-width="1.0" stroke-dasharray="1.2 3" fill="none"/>
<path d="M431.6,21.8L432.3,21.9L433.1,22.1L433.8,22.4L434.6,22.8L435.3,23.3L436.1,24.0L436.8,24.8L437.6,25.8L438.3,26.8L439.1,27.9L439.8,29.1L440.6,30.5L441.3,31.8L442.1,33.3L442.8,34.7L443.6,36.3L444.3,37.8L445.1,39.4L445.8,40.9L446.6,42.4L447.3,44.0L448.1,45.5L448.8,46.9L449.6,48.4L450.3,49.7L451.1,51.1L451.8,52.3L452.6,53.5L453.3,54.7L454.1,55.7L454.8,56.7L455.6,57.7L456.3,58.6L457.1,59.4L457.8,60.1L458.6,60.8L459.3,61.4L460.1,62.0L460.8,62.5L461.6,63.0L462.3,63.4L463.1,63.8L463.8,64.1L464.6,64.4L465.3,64.7L466.1,64.9L466.8,65.1L467.6,65.3L468.3,65.5L469.1,65.6L469.8,65.7" stroke="#301010" stroke-width="1.1" fill="none"/>
<path d="M306.3,66.0L307.1,66.0L307.8,66.0L308.6,66.1L309.3,66.1L310.1,66.1L310.8,66.1L311.6,66.1L312.3,66.1L313.1,66.1L313.8,66.1L314.6,66.1L315.3,66.1L316.1,66.1L316.8,66.1L317.6,66.2L318.3,66.2L319.1,66.2L319.8,66.2L320.6,66.2L321.3,66.2L322.1,66.2L322.8,66.2L323.6,66.2L324.3,66.2L325.1,66.2L325.8,66.2L326.6,66.3L327.3,66.3L328.1,66.3L328.8,66.3L329.6,66.3L330.3,66.3L331.1,66.3L331.8,66.3L332.6,66.3L333.3,66.3L334.1,66.3L334.8,66.3L335.6,66.4L336.3,66.4L337.1,66.4L337.8,66.4L338.6,66.4L339.3,66.4L340.1,66.4L340.8,66.4L341.6,66.4L342.3,66.4L343.1,66.4L343.8,66.4L344.6,66.4L345.3,66.5L346.1,66.5L346.8,66.5L347.6,66.5L348.3,66.5L349.1,66.5L349.8,66.5L350.6,66.5L351.3,66.5L352.1,66.5L352.8,66.5L353.6,66.5L354.3,66.5L355.1,66.5L355.8,66.6L356.6,66.6L357.3,66.6L358.1,66.6L358.8,66.6L359.6,66.6L360.3,66.6L361.1,66.6L361.8,66.6L362.6,66.6L363.3,66.6L364.1,66.6L364.8,66.6L365.6,66.6L366.3,66.7L367.1,66.7L367.8,66.7L368.6,66.7L369.3,66.7L370.1,66.7L370.8,66.7L371.6,66.7L372.3,66.7L373.1,66.7L373.8,66.7L374.6,66.7L375.3,66.7L376.1,66.7L376.8,66.7L377.6,66.8L378.3,66.8L379.1,66.8L379.8,66.8L380.6,66.8L381.3,66.8L382.1,66.8L382.8,66.8L383.6,66.8L384.3,66.8L385.1,66.8L385.8,66.8L386.6,66.8L387.3,66.8L388.1,66.8L388.8,66.8L389.6,66.8L390.3,66.8L391.1,66.9L391.8,66.9L392.6,66.9L393.3,66.9L394.1,66.9L394.8,66.9L395.6,66.9L396.3,66.9L397.1,66.9L397.8,66.9L398.6,66.9L399.3,66.9L400.1,66.9L400.8,66.9L401.6,66.9L402.3,66.9L403.1,66.9L403.8,66.9L404.6,66.9L405.3,66.9L406.1,67.0L406.8,67.0L407.6,67.0L408.3,67.0L409.1,67.0L409.8,67.0L410.6,67.0L411.3,67.0L412.1,67.0L412.8,67.0L413.6,67.0L414.3,67.0L415.1,67.0L415.8,67.0L416.6,67.0L417.3,67.0L418.1,67.0L418.8,67.0L419.6,67.0L420.3,67.0L421.1,67.0L421.8,67.1L422.6,67.1L423.3,67.1L424.1,67.1L424.8,67.1L425.6,67.1L426.3,67.1L427.1,67.1L427.8,67.1L428.6,67.1L429.3,67.1L430.1,67.1L430.8,67.1L431.6,67.1L432.3,67.1L433.1,67.1L433.8,67.1L434.6,67.1L435.3,67.1L436.1,67.1L436.8,67.1L437.6,67.1L438.3,67.1L439.1,67.2L439.8,67.2L440.6,67.2L441.3,67.2L442.1,67.2L442.8,67.2L443.6,67.2L444.3,67.2L445.1,67.2L445.8,67.2L446.6,67.2L447.3,67.2L448.1,67.2L448.8,67.2L449.6,67.2L450.3,67.2L451.1,67.2L451.8,67.2L452.6,67.2L453.3,67.2L454.1,67.2L454.8,67.2L455.6,67.2L456.3,67.2L457.1,67.3L457.8,67.3L458.6,67.3L459.3,67.3L460.1,67.3L460.8,67.3L461.6,67.3L462.3,67.3L463.1,67.3L463.8,67.3L464.6,67.3L465.3,67.3L466.1,67.3L466.8,67.3L467.6,67.3L468.3,67.3L469.1,67.3L469.8,67.3L470.6,67.3L471.3,67.3L472.1,67.3L472.8,67.3L473.6,67.3L474.3,67.3L475.1,67.3L475.8,67.3L476.6,67.3L477.3,67.3L478.1,67.4L478.8,67.4L479.6,67.4L480.3,67.4L481.1,67.4L481.8,67.4L482.6,67.4L483.3,67.4L484.1,67.4L484.8,67.4L485.6,67.4L486.3,67.4L487.1,67.4L487.8,67.4L488.6,67.4L489.3,67.4L490.1,67.4L490.8,67.4L491.6,67.4L492.3,67.4L493.1,67.4L493.8,67.4L494.6,67.4L495.3,67.4L496.1,67.4L496.8,67.4L497.6,67.4L498.3,67.4L499.1,67.4L499.8,67.4L500.6,67.4L501.3,67.4L502.1,67.4L502.8,67.4L503.6,67.5L504.3,67.5L505.1,67.5L505.8,67.5L506.6,67.5L507.3,67.5L508.1,67.5L508.8,67.5L509.6,67.5L510.3,67.5L511.1,67.5L511.8,67.5L512.5,67.5L513.3,67.5L514.0,67.5L514.8,67.5L515.5,67.5L516.3,67.5L517.0,67.5L517.8,67.5L518.5,67.5L519.3,67.5L520.0,67.5L520.8,67.5L521.5,67.5L522.3,67.5L523.0,67.5L523.8,67.5L524.5,67.5L525.3,67.5L526.0,67.5L526.8,67.5L527.5,67.5L528.3,67.5L528.4,67.5" stroke="#2020e0" stroke-width="1.60" fill="none"/>
<path d="M306.3,65.4L307.1,65.4L307.8,65.4L308.6,65.4L309.3,65.4L310.1,65.4L310.8,65.4L311.6,65.4L312.3,65.4L313.1,65.5L313.8,65.5L314.6,65.5L315.3,65.5L316.1,65.5L316.8,65.5L317.6,65.5L318.3,65.5L319.1,65.5L319.8,65.5L320.6,65.5L321.3,65.5L322.1,65.5L322.8,65.5L323.6,65.6L324.3,65.6L325.1,65.6L325.8,65.6L326.6,65.6L327.3,65.6L328.1,65.6L328.8,65.6L329.6,65.6L330.3,65.6L331.1,65.6L331.8,65.6L332.6,65.6L333.3,65.6L334.1,65.6L334.8,65.7L335.6,65.7L336.3,65.7L337.1,65.7L337.8,65.7L338.6,65.7L339.3,65.7L340.1,65.7L340.8,65.7L341.6,65.7L342.3,65.7L343.1,65.7L343.8,65.7L344.6,65.7L345.3,65.7L346.1,65.7L346.8,65.7L347.6,65.7L348.3,65.7L349.1,65.7L349.8,65.7L350.6,65.7L351.3,65.7L352.1,65.7L352.8,65.7L353.6,65.7L354.3,65.7L355.1,65.7L355.8,65.7L356.6,65.7L357.3,65.7L358.1,65.7L358.8,65.7L359.6,65.7L360.3,65.6L361.1,65.6L361.8,65.6L362.6,65.6L363.3,65.5L364.1,65.5L364.8,65.4L365.6,65.4L366.3,65.4L367.1,65.3L367.8,65.2L368.6,65.2L369.3,65.1L370.1,65.0L370.8,64.9L371.6,64.8L372.3,64.7L373.1,64.6L373.8,64.5L374.6,64.4L375.3,64.2L376.1,64.1L376.8,63.9L377.6,63.7L378.3,63.6L379.1,63.4L379.8,63.2L380.6,63.0L381.3,62.7L382.1,62.5L382.8,62.3L383.6,62.0L384.3,61.8L385.1,61.5L385.8,61.2L386.6,61.0L387.3,60.7L388.1,60.4L388.8,60.1L389.6,59.8L390.3,59.6L391.1,59.3L391.8,59.0L392.6,58.7L393.3,58.4L394.1,58.2L394.8,57.9L395.6,57.7L396.3,57.5L397.1,57.2L397.8,57.0L398.6,56.8L399.3,56.7L400.1,56.5L400.8,56.4L401.6,56.3L402.3,56.2L403.1,56.2L403.8,56.1L404.6,56.1L405.3,56.1L406.1,56.2L406.8,56.2L407.6,56.3L408.3,56.5L409.1,56.6L409.8,56.8L410.6,57.0L411.3,57.2L412.1,57.4L412.8,57.7L413.6,57.9L414.3,58.2L415.1,58.5L415.8,58.7L416.6,59.0L417.3,59.3L418.1,59.6L418.8,60.0L419.6,60.3L420.3,60.6L421.1,60.9L421.8,61.2L422.6,61.5L423.3,61.8L424.1,62.0L424.8,62.3L425.6,62.6L426.3,62.8L427.1,63.1L427.8,63.3L428.6,63.5L429.3,63.8L430.1,64.0L430.8,64.2L431.6,64.3L432.3,64.5L433.1,64.7L433.8,64.8L434.6,65.0L435.3,65.1L436.1,65.2L436.8,65.3L437.6,65.4L438.3,65.5L439.1,65.6L439.8,65.7L440.6,65.8L441.3,65.9L442.1,65.9L442.8,66.0L443.6,66.0L444.3,66.1L445.1,66.1L445.8,66.2L446.6,66.2L447.3,66.2L448.1,66.3L448.8,66.3L449.6,66.3L450.3,66.3L451.1,66.4L451.8,66.4L452.6,66.4L453.3,66.4L454.1,66.4L454.8,66.4L455.6,66.5L456.3,66.5L457.1,66.5L457.8,66.5L458.6,66.5L459.3,66.5L460.1,66.5L460.8,66.5L461.6,66.5L462.3,66.5L463.1,66.6L463.8,66.6L464.6,66.6L465.3,66.6L466.1,66.6L466.8,66.6L467.6,66.6L468.3,66.6L469.1,66.6L469.8,66.6L470.6,66.6L471.3,66.6L472.1,66.6L472.8,66.6L473.6,66.6L474.3,66.6L475.1,66.7L475.8,66.7L476.6,66.7L477.3,66.7L478.1,66.7L478.8,66.7L479.6,66.7L480.3,66.7L481.1,66.7L481.8,66.7L482.6,66.7L483.3,66.7L484.1,66.7L484.8,66.7L485.6,66.7L486.3,66.7L487.1,66.7L487.8,66.7L488.6,66.7L489.3,66.7L490.1,66.7L490.8,66.7L491.6,66.8L492.3,66.8L493.1,66.8L493.8,66.8L494.6,66.8L495.3,66.8L496.1,66.8L496.8,66.8L497.6,66.8L498.3,66.8L499.1,66.8L499.8,66.8L500.6,66.8L501.3,66.8L502.1,66.8L502.8,66.8L503.6,66.8L504.3,66.8L505.1,66.8L505.8,66.8L506.6,66.8L507.3,66.8L508.1,66.8L508.8,66.8L509.6,66.8L510.3,66.8L511.1,66.8L511.8,66.8L512.5,66.8L513.3,66.8L514.0,66.8L514.8,66.9L515.5,66.9L516.3,66.9L517.0,66.9L517.8,66.9L518.5,66.9L519.3,66.9L520.0,66.9L520.8,66.9L521.5,66.9L522.3,66.9L523.0,66.9L523.8,66.9L524.5,66.9L525.3,66.9L526.0,66.9L526.8,66.9L527.5,66.9L528.3,66.9L528.4,66.9" stroke="#8a1ae6" stroke-width="1.60" fill="none"/>
<path d="M370.1,66.1L370.8,66.1L371.6,66.1L372.3,66.1L373.1,66.1L373.8,66.1L374.6,66.1L375.3,66.1L376.1,66.1L376.8,66.1L377.6,66.1L378.3,66.1L379.1,66.1L379.8,66.1L380.6,66.1L381.3,66.1L382.1,66.1L382.8,66.1L383.6,66.1L384.3,66.1L385.1,66.1L385.8,66.1L386.6,66.0L387.3,66.0L388.1,66.0L388.8,65.9L389.6,65.9L390.3,65.8L391.1,65.7L391.8,65.6L392.6,65.5L393.3,65.4L394.1,65.3L394.8,65.1L395.6,65.0L396.3,64.8L397.1,64.5L397.8,64.3L398.6,64.0L399.3,63.7L400.1,63.3L400.8,62.9L401.6,62.5L402.3,62.0L403.1,61.5L403.8,60.9L404.6,60.3L405.3,59.7L406.1,58.9L406.8,58.2L407.6,57.3L408.3,56.4L409.1,55.5L409.8,54.5L410.6,53.5L411.3,52.4L412.1,51.2L412.8,50.0L413.6,48.7L414.3,47.5L415.1,46.1L415.8,44.8L416.6,43.4L417.3,42.1L418.1,40.7L418.8,39.3L419.6,37.9L420.3,36.5L421.1,35.2L421.8,33.9L422.6,32.7L423.3,31.5L424.1,30.3L424.8,29.3L425.6,28.3L426.3,27.4L427.1,26.6L427.8,26.0L428.6,25.4L429.3,24.9L430.1,24.6L430.8,24.4L431.6,24.3L432.3,24.3L433.1,24.5L433.8,24.9L434.6,25.3L435.3,25.9L436.1,26.7L436.8,27.5L437.6,28.5L438.3,29.6L439.1,30.8L439.8,32.0L440.6,33.3L441.3,34.7L442.1,36.2L442.8,37.6L443.6,39.1L444.3,40.6L445.1,42.2L445.8,43.7L446.6,45.1L447.3,46.6L448.1,48.0L448.8,49.4L449.6,50.7L450.3,52.0L451.1,53.3L451.8,54.4L452.6,55.5L453.3,56.6L454.1,57.5L454.8,58.5L455.6,59.3L456.3,60.1L457.1,60.8L457.8,61.5L458.6,62.1L459.3,62.6L460.1,63.1L460.8,63.6L461.6,64.0L462.3,64.3L463.1,64.6L463.8,64.9L464.6,65.2L465.3,65.4L466.1,65.6L466.8,65.7L467.6,65.9L468.3,66.0L469.1,66.1L469.8,66.2L470.6,66.3L471.3,66.4L472.1,66.4L472.8,66.5L473.6,66.5L474.3,66.6L475.1,66.6L475.8,66.6L476.6,66.7L477.3,66.7L478.1,66.7L478.8,66.7L479.6,66.7L480.3,66.7L481.1,66.7L481.8,66.8L482.6,66.8L483.3,66.8L484.1,66.8L484.8,66.8L485.6,66.8L486.3,66.8L487.1,66.8L487.8,66.8L488.6,66.8L489.3,66.8" stroke="#0a7d0a" stroke-width="1.60" fill="none"/>
<path d="M306.3,137.3L307.1,137.3L307.8,137.3L308.6,137.3L309.3,137.3L310.1,137.3L310.8,137.3L311.6,137.3L312.3,137.3L313.1,137.3L313.8,137.3L314.6,137.4L315.3,137.4L316.1,137.4L316.8,137.4L317.6,137.4L318.3,137.4L319.1,137.4L319.8,137.4L320.6,137.4L321.3,137.4L322.1,137.4L322.8,137.4L323.6,137.5L324.3,137.5L325.1,137.5L325.8,137.5L326.6,137.5L327.3,137.5L328.1,137.5L328.8,137.5L329.6,137.5L330.3,137.5L331.1,137.5L331.8,137.6L332.6,137.6L333.3,137.6L334.1,137.6L334.8,137.6L335.6,137.6L336.3,137.6L337.1,137.6L337.8,137.6L338.6,137.6L339.3,137.7L340.1,137.7L340.8,137.7L341.6,137.7L342.3,137.7L343.1,137.7L343.8,137.7L344.6,137.7L345.3,137.7L346.1,137.8L346.8,137.8L347.6,137.8L348.3,137.8L349.1,137.8L349.8,137.8L350.6,137.8L351.3,137.8L352.1,137.8L352.8,137.9L353.6,137.9L354.3,137.9L355.1,137.9L355.8,137.9L356.6,137.9L357.3,137.9L358.1,137.9L358.8,137.9L359.6,138.0L360.3,138.0L361.1,138.0L361.8,138.0L362.6,138.0L363.3,138.0L364.1,138.0L364.8,138.0L365.6,138.1L366.3,138.1L367.1,138.1L367.8,138.1L368.6,138.1L369.3,138.1L370.1,138.1L370.8,138.1L371.6,138.1L372.3,138.2L373.1,138.2L373.8,138.2L374.6,138.2L375.3,138.2L376.1,138.2L376.8,138.2L377.6,138.2L378.3,138.2L379.1,138.3L379.8,138.3L380.6,138.3L381.3,138.3L382.1,138.3L382.8,138.3L383.6,138.3L384.3,138.3L385.1,138.3L385.8,138.3L386.6,138.3L387.3,138.3L388.1,138.3L388.8,138.3L389.6,138.3L390.3,138.3L391.1,138.3L391.8,138.2L392.6,138.2L393.3,138.2L394.1,138.1L394.8,138.1L395.6,138.0L396.3,137.9L397.1,137.8L397.8,137.7L398.6,137.6L399.3,137.5L400.1,137.4L400.8,137.3L401.6,137.1L402.3,137.0L403.1,136.8L403.8,136.6L404.6,136.4L405.3,136.2L406.1,136.0L406.8,135.8L407.6,135.6L408.3,135.4L409.1,135.1L409.8,134.9L410.6,134.7L411.3,134.5L412.1,134.3L412.8,134.1L413.6,133.9L414.3,133.7L415.1,133.6L415.8,133.4L416.6,133.3L417.3,133.1L418.1,133.0L418.8,132.8L419.6,132.6L420.3,132.4L421.1,132.2L421.8,131.9L422.6,131.6L423.3,131.2L424.1,130.7L424.8,130.2L425.6,129.7L426.3,129.0L427.1,128.3L427.8,127.5L428.6,126.6L429.3,125.6L430.1,124.5L430.8,123.3L431.6,122.0L432.3,120.6L433.1,119.1L433.8,117.5L434.6,115.8L435.3,114.1L436.1,112.3L436.8,110.4L437.6,108.5L438.3,106.6L439.1,104.7L439.8,102.9L440.6,101.0L441.3,99.3L442.1,97.6L442.8,96.0L443.6,94.6L444.3,93.3L445.1,92.2L445.8,91.3L446.6,90.6L447.3,90.1L448.1,89.8L448.8,89.7L449.6,89.9L450.3,90.3L451.1,90.9L451.8,91.7L452.6,92.7L453.3,93.9L454.1,95.2L454.8,96.7L455.6,98.4L456.3,100.1L457.1,101.9L457.8,103.9L458.6,105.8L459.3,107.8L460.1,109.7L460.8,111.7L461.6,113.6L462.3,115.5L463.1,117.2L463.8,118.9L464.6,120.5L465.3,121.9L466.1,123.3L466.8,124.5L467.6,125.5L468.3,126.4L469.1,127.2L469.8,127.9L470.6,128.5L471.3,129.0L472.1,129.4L472.8,129.7L473.6,130.0L474.3,130.3L475.1,130.6L475.8,130.9L476.6,131.3L477.3,131.7L478.1,132.1L478.8,132.5L479.6,132.9L480.3,133.3L481.1,133.7L481.8,134.1L482.6,134.5L483.3,134.9L484.1,135.2L484.8,135.6L485.6,135.9L486.3,136.2L487.1,136.5L487.8,136.8L488.6,137.0L489.3,137.2L490.1,137.4L490.8,137.6L491.6,137.7L492.3,137.9L493.1,138.0L493.8,138.1L494.6,138.2L495.3,138.2L496.1,138.3L496.8,138.3L497.6,138.4L498.3,138.4L499.1,138.4L499.8,138.4L500.6,138.4L501.3,138.5L502.1,138.5L502.8,138.5L503.6,138.5L504.3,138.5L505.1,138.5L505.8,138.5L506.6,138.5L507.3,138.5L508.1,138.5L508.8,138.5L509.6,138.5L510.3,138.5L511.1,138.5L511.8,138.5L512.5,138.5L513.3,138.5L514.0,138.5L514.8,138.5L515.5,138.5L516.3,138.5L517.0,138.6L517.8,138.6L518.5,138.6L519.3,138.6L520.0,138.6L520.8,138.6L521.5,138.6L522.3,138.6L523.0,138.6L523.8,138.6L524.5,138.6L525.3,138.6L526.0,138.6L526.8,138.6L527.5,138.6L528.3,138.6L528.4,138.6" stroke="#ff1010" stroke-width="1.60" fill="none"/>
<path d="M409.1,134.9L409.8,134.6L410.6,134.4L411.3,134.2L412.1,134.0L412.8,133.9L413.6,133.7L414.3,133.5L415.1,133.4L415.8,133.2L416.6,133.1L417.3,132.9L418.1,132.7L418.8,132.6L419.6,132.3L420.3,132.1L421.1,131.8L421.8,131.4L422.6,131.0L423.3,130.6L424.1,130.1L424.8,129.5L425.6,128.8L426.3,128.0L427.1,127.2L427.8,126.2L428.6,125.2L429.3,124.1L430.1,122.8L430.8,121.5L431.6,120.1L432.3,118.5L433.1,116.9L433.8,115.2L434.6,113.5L435.3,111.6L436.1,109.8L436.8,107.9L437.6,106.0L438.3,104.1L439.1,102.2L439.8,100.5L440.6,98.7L441.3,97.1L442.1,95.6L442.8,94.2L443.6,93.0L444.3,92.0L445.1,91.2L445.8,90.6L446.6,90.1L447.3,89.9L448.1,89.8L448.8,89.8L449.6,89.9" stroke="#201010" stroke-width="1.0" stroke-dasharray="1.2 3" fill="none"/>
<path d="M450.3,90.1L451.1,90.4L451.8,90.9L452.6,91.6L453.3,92.5L454.1,93.6L454.8,94.9L455.6,96.3L456.3,97.9L457.1,99.6L457.8,101.4L458.6,103.2L459.3,105.2L460.1,107.1L460.8,109.1L461.6,111.0L462.3,113.0L463.1,114.8L463.8,116.6L464.6,118.3L465.3,120.0L466.1,121.4L466.8,122.8L467.6,124.1L468.3,125.2L469.1,126.1L469.8,127.0L470.6,127.7L471.3,128.3L472.1,128.8L472.8,129.2L473.6,129.6L474.3,129.9L475.1,130.2L475.8,130.5L476.6,130.8L477.3,131.2L478.1,131.6L478.8,131.9L479.6,132.3L480.3,132.7L481.1,133.1L481.8,133.5L482.6,133.9L483.3,134.3L484.1,134.7L484.8,135.1L485.6,135.5L486.3,135.8L487.1,136.1L487.8,136.4L488.6,136.7" stroke="#301010" stroke-width="1.1" fill="none"/>
<path d="M385.1,138.0L385.8,138.0L386.6,138.0L387.3,138.0L388.1,138.0L388.8,138.0L389.6,137.9L390.3,137.9L391.1,137.9L391.8,137.8L392.6,137.8L393.3,137.8L394.1,137.7L394.8,137.6L395.6,137.6L396.3,137.5L397.1,137.4L397.8,137.3L398.6,137.2L399.3,137.1L400.1,136.9L400.8,136.8L401.6,136.6L402.3,136.5L403.1,136.3L403.8,136.1L404.6,135.9L405.3,135.7L406.1,135.5L406.8,135.3L407.6,135.1L408.3,134.9L409.1,134.6L409.8,134.4L410.6,134.2L411.3,134.0L412.1,133.9L412.8,133.7L413.6,133.5L414.3,133.4L415.1,133.3L415.8,133.2L416.6,133.2L417.3,133.2L418.1,133.2L418.8,133.2L419.6,133.2L420.3,133.2L421.1,133.3L421.8,133.3L422.6,133.4L423.3,133.4L424.1,133.5L424.8,133.6L425.6,133.7L426.3,133.7L427.1,133.8L427.8,133.9L428.6,134.0L429.3,134.2L430.1,134.3L430.8,134.4L431.6,134.5L432.3,134.6L433.1,134.8L433.8,134.9L434.6,135.0L435.3,135.1L436.1,135.3L436.8,135.4L437.6,135.5L438.3,135.7L439.1,135.8L439.8,135.9L440.6,136.0L441.3,136.1L442.1,136.3L442.8,136.4L443.6,136.5L444.3,136.6L445.1,136.7L445.8,136.8L446.6,136.9L447.3,137.0L448.1,137.1L448.8,137.2L449.6,137.3L450.3,137.4L451.1,137.5L451.8,137.5L452.6,137.6L453.3,137.7L454.1,137.7L454.8,137.8L455.6,137.9L456.3,137.9L457.1,138.0L457.8,138.0L458.6,138.1L459.3,138.1L460.1,138.2L460.8,138.2L461.6,138.2L462.3,138.3L463.1,138.3L463.8,138.3L464.6,138.4L465.3,138.4L466.1,138.4L466.8,138.4L467.6,138.5L468.3,138.5L469.1,138.5L469.8,138.5L470.6,138.5L471.3,138.6L472.1,138.6L472.8,138.6L473.6,138.6L474.3,138.6L475.1,138.6L475.8,138.6L476.6,138.7L477.3,138.7L478.1,138.7L478.8,138.7L479.6,138.7L480.3,138.7L481.1,138.7L481.8,138.7L482.6,138.7L483.3,138.7L484.1,138.7L484.8,138.7L485.6,138.8L486.3,138.8L487.1,138.8L487.8,138.8L488.6,138.8L489.3,138.8L490.1,138.8L490.8,138.8L491.6,138.8L492.3,138.8L493.1,138.8L493.8,138.8L494.6,138.8L495.3,138.8L496.1,138.8L496.8,138.8L497.6,138.8L498.3,138.9L499.1,138.9L499.8,138.9L500.6,138.9L501.3,138.9L502.1,138.9L502.8,138.9L503.6,138.9L504.3,138.9L505.1,138.9L505.8,138.9L506.6,138.9L507.3,138.9L508.1,138.9L508.8,138.9L509.6,138.9L510.3,138.9L511.1,138.9L511.8,138.9L512.5,138.9L513.3,139.0L514.0,139.0L514.8,139.0L515.5,139.0L516.3,139.0L517.0,139.0L517.8,139.0L518.5,139.0L519.3,139.0L520.0,139.0L520.8,139.0L521.5,139.0L522.3,139.0L523.0,139.0L523.8,139.0L524.5,139.0L525.3,139.0L526.0,139.0L526.8,139.0L527.5,139.0L528.3,139.0L528.4,139.0" stroke="#8a1ae6" stroke-width="1.60" fill="none"/>
<path d="M410.6,137.9L411.3,137.9L412.1,137.9L412.8,137.8L413.6,137.8L414.3,137.7L415.1,137.7L415.8,137.6L416.6,137.5L417.3,137.4L418.1,137.2L418.8,137.0L419.6,136.8L420.3,136.6L421.1,136.3L421.8,136.0L422.6,135.6L423.3,135.1L424.1,134.6L424.8,134.0L425.6,133.4L426.3,132.6L427.1,131.8L427.8,130.9L428.6,129.9L429.3,128.7L430.1,127.5L430.8,126.2L431.6,124.7L432.3,123.2L433.1,121.6L433.8,119.8L434.6,118.0L435.3,116.1L436.1,114.2L436.8,112.2L437.6,110.2L438.3,108.2L439.1,106.1L439.8,104.1L440.6,102.2L441.3,100.3L442.1,98.5L442.8,96.8L443.6,95.3L444.3,93.9L445.1,92.7L445.8,91.6L446.6,90.8L447.3,90.2L448.1,89.8L448.8,89.7L449.6,89.8L450.3,90.1L451.1,90.6L451.8,91.4L452.6,92.3L453.3,93.5L454.1,94.8L454.8,96.2L455.6,97.9L456.3,99.6L457.1,101.4L457.8,103.3L458.6,105.3L459.3,107.3L460.1,109.3L460.8,111.3L461.6,113.3L462.3,115.3L463.1,117.2L463.8,119.0L464.6,120.8L465.3,122.4L466.1,124.0L466.8,125.5L467.6,126.9L468.3,128.2L469.1,129.4L469.8,130.5L470.6,131.4L471.3,132.3L472.1,133.2L472.8,133.9L473.6,134.5L474.3,135.1L475.1,135.6L475.8,136.0L476.6,136.4L477.3,136.7L478.1,137.0L478.8,137.3L479.6,137.5L480.3,137.7L481.1,137.8L481.8,137.9L482.6,138.0L483.3,138.1L484.1,138.2L484.8,138.3L485.6,138.3L486.3,138.4L487.1,138.4L487.8,138.4L488.6,138.5L489.3,138.5L490.1,138.5L490.8,138.5L491.6,138.5" stroke="#0a7d0a" stroke-width="1.60" fill="none"/>
<path d="M306.3,137.1L307.1,137.1L307.8,137.1L308.6,137.1L309.3,137.2L310.1,137.2L310.8,137.2L311.6,137.2L312.3,137.2L313.1,137.2L313.8,137.2L314.6,137.2L315.3,137.2L316.1,137.2L316.8,137.2L317.6,137.2L318.3,137.2L319.1,137.2L319.8,137.3L320.6,137.3L321.3,137.3L322.1,137.3L322.8,137.3L323.6,137.3L324.3,137.3L325.1,137.3L325.8,137.3L326.6,137.3L327.3,137.3L328.1,137.3L328.8,137.3L329.6,137.3L330.3,137.3L331.1,137.4L331.8,137.4L332.6,137.4L333.3,137.4L334.1,137.4L334.8,137.4L335.6,137.4L336.3,137.4L337.1,137.4L337.8,137.4L338.6,137.4L339.3,137.4L340.1,137.4L340.8,137.4L341.6,137.4L342.3,137.4L343.1,137.5L343.8,137.5L344.6,137.5L345.3,137.5L346.1,137.5L346.8,137.5L347.6,137.5L348.3,137.5L349.1,137.5L349.8,137.5L350.6,137.5L351.3,137.5L352.1,137.5L352.8,137.5L353.6,137.5L354.3,137.6L355.1,137.6L355.8,137.6L356.6,137.6L357.3,137.6L358.1,137.6L358.8,137.6L359.6,137.6L360.3,137.6L361.1,137.6L361.8,137.6L362.6,137.6L363.3,137.6L364.1,137.6L364.8,137.6L365.6,137.6L366.3,137.7L367.1,137.7L367.8,137.7L368.6,137.7L369.3,137.7L370.1,137.7L370.8,137.7L371.6,137.7L372.3,137.7L373.1,137.7L373.8,137.7L374.6,137.7L375.3,137.7L376.1,137.7L376.8,137.7L377.6,137.7L378.3,137.7L379.1,137.8L379.8,137.8L380.6,137.8L381.3,137.8L382.1,137.8L382.8,137.8L383.6,137.8L384.3,137.8L385.1,137.8L385.8,137.8L386.6,137.8L387.3,137.8L388.1,137.8L388.8,137.8L389.6,137.8L390.3,137.8L391.1,137.8L391.8,137.9L392.6,137.9L393.3,137.9L394.1,137.9L394.8,137.9L395.6,137.9L396.3,137.9L397.1,137.9L397.8,137.9L398.6,137.9L399.3,137.9L400.1,137.9L400.8,137.9L401.6,137.9L402.3,137.9L403.1,137.9L403.8,137.9L404.6,137.9L405.3,138.0L406.1,138.0L406.8,138.0L407.6,138.0L408.3,138.0L409.1,138.0L409.8,138.0L410.6,138.0L411.3,138.0L412.1,138.0L412.8,138.0L413.6,138.0L414.3,138.0L415.1,138.0L415.8,138.0L416.6,138.0L417.3,138.0L418.1,138.0L418.8,138.0L419.6,138.1L420.3,138.1L421.1,138.1L421.8,138.1L422.6,138.1L423.3,138.1L424.1,138.1L424.8,138.1L425.6,138.1L426.3,138.1L427.1,138.1L427.8,138.1L428.6,138.1L429.3,138.1L430.1,138.1L430.8,138.1L431.6,138.1L432.3,138.1L433.1,138.1L433.8,138.1L434.6,138.1L435.3,138.1L436.1,138.2L436.8,138.2L437.6,138.2L438.3,138.2L439.1,138.2L439.8,138.2L440.6,138.2L441.3,138.2L442.1,138.2L442.8,138.2L443.6,138.2L444.3,138.2L445.1,138.2L445.8,138.2L446.6,138.2L447.3,138.2L448.1,138.2L448.8,138.2L449.6,138.2L450.3,138.2L451.1,138.2L451.8,138.2L452.6,138.2L453.3,138.2L454.1,138.2L454.8,138.2L455.6,138.2L456.3,138.2L457.1,138.2L457.8,138.2L458.6,138.1L459.3,138.1L460.1,138.1L460.8,138.0L461.6,137.9L462.3,137.9L463.1,137.7L463.8,137.6L464.6,137.5L465.3,137.3L466.1,137.0L466.8,136.8L467.6,136.5L468.3,136.1L469.1,135.8L469.8,135.4L470.6,135.0L471.3,134.6L472.1,134.2L472.8,133.9L473.6,133.6L474.3,133.3L475.1,133.2L475.8,133.1L476.6,133.1L477.3,133.2L478.1,133.3L478.8,133.4L479.6,133.6L480.3,133.9L481.1,134.2L481.8,134.4L482.6,134.7L483.3,135.1L484.1,135.4L484.8,135.7L485.6,136.0L486.3,136.2L487.1,136.5L487.8,136.8L488.6,137.0L489.3,137.2L490.1,137.4L490.8,137.5L491.6,137.7L492.3,137.8L493.1,137.9L493.8,138.0L494.6,138.1L495.3,138.2L496.1,138.2L496.8,138.3L497.6,138.3L498.3,138.4L499.1,138.4L499.8,138.4L500.6,138.4L501.3,138.5L502.1,138.5L502.8,138.5L503.6,138.5L504.3,138.5L505.1,138.5L505.8,138.5L506.6,138.5L507.3,138.6L508.1,138.6L508.8,138.6L509.6,138.6L510.3,138.6L511.1,138.6L511.8,138.6L512.5,138.6L513.3,138.6L514.0,138.6L514.8,138.6L515.5,138.6L516.3,138.6L517.0,138.7L517.8,138.7L518.5,138.7L519.3,138.7L520.0,138.7L520.8,138.7L521.5,138.7L522.3,138.7L523.0,138.7L523.8,138.7L524.5,138.7L525.3,138.7L526.0,138.7L526.8,138.7L527.5,138.7L528.3,138.7L528.4,138.7" stroke="#ff8a10" stroke-width="1.60" fill="none"/>
<path d="M306.3,195.4L307.1,195.4L307.8,195.4L308.6,195.4L309.3,195.4L310.1,195.5L310.8,195.5L311.6,195.5L312.3,195.5L313.1,195.5L313.8,195.5L314.6,195.5L315.3,195.5L316.1,195.5L316.8,195.5L317.6,195.5L318.3,195.5L319.1,195.5L319.8,195.5L320.6,195.5L321.3,195.5L322.1,195.6L322.8,195.6L323.6,195.6L324.3,195.6L325.1,195.6L325.8,195.6L326.6,195.6L327.3,195.6L328.1,195.6L328.8,195.6L329.6,195.6L330.3,195.6L331.1,195.6L331.8,195.6L332.6,195.6L333.3,195.6L334.1,195.6L334.8,195.6L335.6,195.6L336.3,195.6L337.1,195.6L337.8,195.7L338.6,195.7L339.3,195.7L340.1,195.7L340.8,195.7L341.6,195.7L342.3,195.7L343.1,195.7L343.8,195.7L344.6,195.7L345.3,195.7L346.1,195.7L346.8,195.7L347.6,195.7L348.3,195.7L349.1,195.7L349.8,195.7L350.6,195.7L351.3,195.7L352.1,195.7L352.8,195.7L353.6,195.7L354.3,195.7L355.1,195.7L355.8,195.7L356.6,195.7L357.3,195.7L358.1,195.7L358.8,195.7L359.6,195.7L360.3,195.7L361.1,195.6L361.8,195.6L362.6,195.6L363.3,195.6L364.1,195.6L364.8,195.6L365.6,195.5L366.3,195.5L367.1,195.5L367.8,195.4L368.6,195.4L369.3,195.3L370.1,195.3L370.8,195.2L371.6,195.2L372.3,195.1L373.1,195.0L373.8,194.9L374.6,194.8L375.3,194.7L376.1,194.6L376.8,194.5L377.6,194.4L378.3,194.2L379.1,194.1L379.8,193.9L380.6,193.8L381.3,193.6L382.1,193.4L382.8,193.2L383.6,193.0L384.3,192.8L385.1,192.6L385.8,192.3L386.6,192.1L387.3,191.8L388.1,191.6L388.8,191.3L389.6,191.0L390.3,190.7L391.1,190.4L391.8,190.1L392.6,189.8L393.3,189.5L394.1,189.2L394.8,188.9L395.6,188.5L396.3,188.2L397.1,187.8L397.8,187.5L398.6,187.1L399.3,186.7L400.1,186.3L400.8,185.9L401.6,185.4L402.3,184.9L403.1,184.4L403.8,183.9L404.6,183.3L405.3,182.7L406.1,182.1L406.8,181.4L407.6,180.7L408.3,179.9L409.1,179.1L409.8,178.3L410.6,177.4L411.3,176.4L412.1,175.4L412.8,174.3L413.6,173.1L414.3,171.9L415.1,170.7L415.8,169.4L416.6,168.1L417.3,166.7L418.1,165.3L418.8,163.9L419.6,162.4L420.3,161.0L421.1,159.6L421.8,158.2L422.6,156.9L423.3,155.6L424.1,154.3L424.8,153.2L425.6,152.1L426.3,151.2L427.1,150.4L427.8,149.7L428.6,149.1L429.3,148.7L430.1,148.5L430.8,148.4L431.6,148.5L432.3,148.7L433.1,149.1L433.8,149.6L434.6,150.3L435.3,151.2L436.1,152.1L436.8,153.2L437.6,154.4L438.3,155.7L439.1,157.0L439.8,158.5L440.6,160.0L441.3,161.6L442.1,163.2L442.8,164.8L443.6,166.5L444.3,168.1L445.1,169.7L445.8,171.4L446.6,173.0L447.3,174.5L448.1,176.0L448.8,177.5L449.6,178.9L450.3,180.3L451.1,181.6L451.8,182.9L452.6,184.0L453.3,185.1L454.1,186.2L454.8,187.1L455.6,188.1L456.3,188.9L457.1,189.7L457.8,190.4L458.6,191.0L459.3,191.6L460.1,192.2L460.8,192.7L461.6,193.1L462.3,193.5L463.1,193.9L463.8,194.2L464.6,194.5L465.3,194.7L466.1,195.0L466.8,195.2L467.6,195.4L468.3,195.5L469.1,195.7L469.8,195.8L470.6,195.9L471.3,196.0L472.1,196.1L472.8,196.2L473.6,196.2L474.3,196.3L475.1,196.3L475.8,196.4L476.6,196.4L477.3,196.5L478.1,196.5L478.8,196.5L479.6,196.6L480.3,196.6L481.1,196.6L481.8,196.6L482.6,196.7L483.3,196.7L484.1,196.7L484.8,196.7L485.6,196.7L486.3,196.7L487.1,196.7L487.8,196.8L488.6,196.8L489.3,196.8L490.1,196.8L490.8,196.8L491.6,196.8L492.3,196.8L493.1,196.8L493.8,196.8L494.6,196.9L495.3,196.9L496.1,196.9L496.8,196.9L497.6,196.9L498.3,196.9L499.1,196.9L499.8,196.9L500.6,196.9L501.3,196.9L502.1,196.9L502.8,196.9L503.6,196.9L504.3,196.9L505.1,197.0L505.8,197.0L506.6,197.0L507.3,197.0L508.1,197.0L508.8,197.0L509.6,197.0L510.3,197.0L511.1,197.0L511.8,197.0L512.5,197.0L513.3,197.0L514.0,197.0L514.8,197.0L515.5,197.0L516.3,197.0L517.0,197.0L517.8,197.0L518.5,197.0L519.3,197.0L520.0,197.0L520.8,197.0L521.5,197.0L522.3,197.0L523.0,197.0L523.8,197.0L524.5,197.0L525.3,197.0L526.0,197.0L526.8,197.0L527.5,197.0L528.3,197.0L528.4,197.0" stroke="#ff1010" stroke-width="1.60" fill="none"/>
<path d="M391.1,190.0L391.8,189.7L392.6,189.4L393.3,189.1L394.1,188.8L394.8,188.4L395.6,188.1L396.3,187.7L397.1,187.4L397.8,187.0L398.6,186.6L399.3,186.2L400.1,185.7L400.8,185.3L401.6,184.8L402.3,184.2L403.1,183.7L403.8,183.1L404.6,182.5L405.3,181.9L406.1,181.2L406.8,180.4L407.6,179.7L408.3,178.8L409.1,178.0L409.8,177.0L410.6,176.0L411.3,175.0L412.1,173.9L412.8,172.7L413.6,171.5L414.3,170.3L415.1,168.9L415.8,167.6L416.6,166.2L417.3,164.8L418.1,163.4L418.8,162.0L419.6,160.5L420.3,159.1L421.1,157.8L421.8,156.4L422.6,155.2L423.3,154.0L424.1,152.9L424.8,151.9L425.6,151.0L426.3,150.2L427.1,149.6L427.8,149.1L428.6,148.8L429.3,148.5L430.1,148.4L430.8,148.4L431.6,148.4" stroke="#201010" stroke-width="1.0" stroke-dasharray="1.2 3" fill="none"/>
<path d="M432.3,148.6L433.1,148.8L433.8,149.1L434.6,149.6L435.3,150.2L436.1,151.0L436.8,151.8L437.6,152.9L438.3,154.0L439.1,155.3L439.8,156.6L440.6,158.0L441.3,159.5L442.1,161.1L442.8,162.6L443.6,164.3L444.3,165.9L445.1,167.5L445.8,169.2L446.6,170.8L447.3,172.4L448.1,174.0L448.8,175.5L449.6,177.0L450.3,178.5L451.1,179.8L451.8,181.2L452.6,182.4L453.3,183.6L454.1,184.8L454.8,185.8L455.6,186.8L456.3,187.8L457.1,188.6L457.8,189.4L458.6,190.1L459.3,190.8L460.1,191.4L460.8,192.0L461.6,192.5L462.3,193.0L463.1,193.4L463.8,193.8L464.6,194.1L465.3,194.4L466.1,194.7L466.8,194.9L467.6,195.1L468.3,195.3L469.1,195.5L469.8,195.6L470.6,195.8" stroke="#301010" stroke-width="1.1" fill="none"/>
<path d="M306.3,195.2L307.1,195.2L307.8,195.3L308.6,195.3L309.3,195.3L310.1,195.3L310.8,195.3L311.6,195.3L312.3,195.3L313.1,195.3L313.8,195.4L314.6,195.4L315.3,195.4L316.1,195.4L316.8,195.4L317.6,195.4L318.3,195.4L319.1,195.4L319.8,195.4L320.6,195.5L321.3,195.5L322.1,195.5L322.8,195.5L323.6,195.5L324.3,195.5L325.1,195.5L325.8,195.5L326.6,195.6L327.3,195.6L328.1,195.6L328.8,195.6L329.6,195.6L330.3,195.6L331.1,195.6L331.8,195.6L332.6,195.6L333.3,195.7L334.1,195.7L334.8,195.7L335.6,195.7L336.3,195.7L337.1,195.7L337.8,195.7L338.6,195.7L339.3,195.7L340.1,195.8L340.8,195.8L341.6,195.8L342.3,195.8L343.1,195.8L343.8,195.8L344.6,195.8L345.3,195.8L346.1,195.8L346.8,195.9L347.6,195.9L348.3,195.9L349.1,195.9L349.8,195.9L350.6,195.9L351.3,195.9L352.1,195.9L352.8,195.9L353.6,196.0L354.3,196.0L355.1,196.0L355.8,196.0L356.6,196.0L357.3,196.0L358.1,196.0L358.8,196.0L359.6,196.0L360.3,196.0L361.1,196.1L361.8,196.1L362.6,196.1L363.3,196.1L364.1,196.1L364.8,196.1L365.6,196.1L366.3,196.1L367.1,196.1L367.8,196.1L368.6,196.2L369.3,196.2L370.1,196.2L370.8,196.2L371.6,196.2L372.3,196.2L373.1,196.2L373.8,196.2L374.6,196.2L375.3,196.2L376.1,196.3L376.8,196.3L377.6,196.3L378.3,196.3L379.1,196.3L379.8,196.3L380.6,196.3L381.3,196.3L382.1,196.3L382.8,196.3L383.6,196.3L384.3,196.4L385.1,196.4L385.8,196.4L386.6,196.4L387.3,196.4L388.1,196.4L388.8,196.4L389.6,196.4L390.3,196.4L391.1,196.4L391.8,196.4L392.6,196.5L393.3,196.5L394.1,196.5L394.8,196.5L395.6,196.5L396.3,196.5L397.1,196.5L397.8,196.5L398.6,196.5L399.3,196.5L400.1,196.5L400.8,196.6L401.6,196.6L402.3,196.6L403.1,196.6L403.8,196.6L404.6,196.6L405.3,196.6L406.1,196.6L406.8,196.6L407.6,196.6L408.3,196.6L409.1,196.6L409.8,196.7L410.6,196.7L411.3,196.7L412.1,196.7L412.8,196.7L413.6,196.7L414.3,196.7L415.1,196.7L415.8,196.7L416.6,196.7L417.3,196.7L418.1,196.7L418.8,196.7L419.6,196.8L420.3,196.8L421.1,196.8L421.8,196.8L422.6,196.8L423.3,196.8L424.1,196.8L424.8,196.8L425.6,196.8L426.3,196.8L427.1,196.8L427.8,196.8L428.6,196.8L429.3,196.8L430.1,196.9L430.8,196.9L431.6,196.9L432.3,196.9L433.1,196.9L433.8,196.9L434.6,196.9L435.3,196.9L436.1,196.9L436.8,196.9L437.6,196.9L438.3,196.9L439.1,196.9L439.8,196.9L440.6,197.0L441.3,197.0L442.1,197.0L442.8,197.0L443.6,197.0L444.3,197.0L445.1,197.0L445.8,197.0L446.6,197.0L447.3,197.0L448.1,197.0L448.8,197.0L449.6,197.0L450.3,197.0L451.1,197.0L451.8,197.1L452.6,197.1L453.3,197.1L454.1,197.1L454.8,197.1L455.6,197.1L456.3,197.1L457.1,197.1L457.8,197.1L458.6,197.1L459.3,197.1L460.1,197.1L460.8,197.1L461.6,197.1L462.3,197.1L463.1,197.2L463.8,197.2L464.6,197.2L465.3,197.2L466.1,197.2L466.8,197.2L467.6,197.2L468.3,197.2L469.1,197.2L469.8,197.2L470.6,197.2L471.3,197.2L472.1,197.2L472.8,197.2L473.6,197.2L474.3,197.2L475.1,197.3L475.8,197.3L476.6,197.3L477.3,197.3L478.1,197.3L478.8,197.3L479.6,197.3L480.3,197.3L481.1,197.3L481.8,197.3L482.6,197.3L483.3,197.3L484.1,197.3L484.8,197.3L485.6,197.3L486.3,197.3L487.1,197.3L487.8,197.4L488.6,197.4L489.3,197.4L490.1,197.4L490.8,197.4L491.6,197.4L492.3,197.4L493.1,197.4L493.8,197.4L494.6,197.4L495.3,197.4L496.1,197.4L496.8,197.4L497.6,197.4L498.3,197.4L499.1,197.4L499.8,197.4L500.6,197.4L501.3,197.4L502.1,197.5L502.8,197.5L503.6,197.5L504.3,197.5L505.1,197.5L505.8,197.5L506.6,197.5L507.3,197.5L508.1,197.5L508.8,197.5L509.6,197.5L510.3,197.5L511.1,197.5L511.8,197.5L512.5,197.5L513.3,197.5L514.0,197.5L514.8,197.5L515.5,197.5L516.3,197.5L517.0,197.5L517.8,197.6L518.5,197.6L519.3,197.6L520.0,197.6L520.8,197.6L521.5,197.6L522.3,197.6L523.0,197.6L523.8,197.6L524.5,197.6L525.3,197.6L526.0,197.6L526.8,197.6L527.5,197.6L528.3,197.6L528.4,197.6" stroke="#2020e0" stroke-width="1.60" fill="none"/>
<path d="M306.3,194.9L307.1,194.9L307.8,195.0L308.6,195.0L309.3,195.0L310.1,195.0L310.8,195.0L311.6,195.0L312.3,195.0L313.1,195.0L313.8,195.1L314.6,195.1L315.3,195.1L316.1,195.1L316.8,195.1L317.6,195.1L318.3,195.1L319.1,195.1L319.8,195.1L320.6,195.2L321.3,195.2L322.1,195.2L322.8,195.2L323.6,195.2L324.3,195.2L325.1,195.2L325.8,195.2L326.6,195.3L327.3,195.3L328.1,195.3L328.8,195.3L329.6,195.3L330.3,195.3L331.1,195.3L331.8,195.3L332.6,195.3L333.3,195.4L334.1,195.4L334.8,195.4L335.6,195.4L336.3,195.4L337.1,195.4L337.8,195.4L338.6,195.4L339.3,195.4L340.1,195.5L340.8,195.5L341.6,195.5L342.3,195.5L343.1,195.5L343.8,195.5L344.6,195.5L345.3,195.5L346.1,195.5L346.8,195.6L347.6,195.6L348.3,195.6L349.1,195.6L349.8,195.6L350.6,195.6L351.3,195.6L352.1,195.6L352.8,195.6L353.6,195.6L354.3,195.6L355.1,195.7L355.8,195.7L356.6,195.7L357.3,195.7L358.1,195.7L358.8,195.7L359.6,195.7L360.3,195.7L361.1,195.7L361.8,195.7L362.6,195.7L363.3,195.7L364.1,195.7L364.8,195.7L365.6,195.6L366.3,195.6L367.1,195.6L367.8,195.6L368.6,195.5L369.3,195.5L370.1,195.5L370.8,195.4L371.6,195.4L372.3,195.3L373.1,195.3L373.8,195.2L374.6,195.1L375.3,195.0L376.1,194.9L376.8,194.8L377.6,194.7L378.3,194.6L379.1,194.5L379.8,194.3L380.6,194.2L381.3,194.0L382.1,193.8L382.8,193.7L383.6,193.5L384.3,193.3L385.1,193.1L385.8,192.9L386.6,192.7L387.3,192.5L388.1,192.3L388.8,192.0L389.6,191.8L390.3,191.6L391.1,191.4L391.8,191.2L392.6,191.0L393.3,190.8L394.1,190.6L394.8,190.4L395.6,190.2L396.3,190.1L397.1,189.9L397.8,189.8L398.6,189.7L399.3,189.6L400.1,189.5L400.8,189.4L401.6,189.4L402.3,189.4L403.1,189.4L403.8,189.4L404.6,189.4L405.3,189.5L406.1,189.6L406.8,189.8L407.6,189.9L408.3,190.1L409.1,190.3L409.8,190.5L410.6,190.8L411.3,191.0L412.1,191.3L412.8,191.5L413.6,191.8L414.3,192.1L415.1,192.4L415.8,192.7L416.6,192.9L417.3,193.2L418.1,193.5L418.8,193.7L419.6,194.0L420.3,194.2L421.1,194.4L421.8,194.6L422.6,194.8L423.3,195.0L424.1,195.2L424.8,195.3L425.6,195.5L426.3,195.6L427.1,195.7L427.8,195.8L428.6,195.9L429.3,196.0L430.1,196.1L430.8,196.2L431.6,196.2L432.3,196.3L433.1,196.4L433.8,196.4L434.6,196.4L435.3,196.5L436.1,196.5L436.8,196.5L437.6,196.5L438.3,196.6L439.1,196.6L439.8,196.6L440.6,196.6L441.3,196.6L442.1,196.6L442.8,196.7L443.6,196.7L444.3,196.7L445.1,196.7L445.8,196.7L446.6,196.7L447.3,196.7L448.1,196.7L448.8,196.7L449.6,196.7L450.3,196.7L451.1,196.7L451.8,196.8L452.6,196.8L453.3,196.8L454.1,196.8L454.8,196.8L455.6,196.8L456.3,196.8L457.1,196.8L457.8,196.8L458.6,196.8L459.3,196.8L460.1,196.8L460.8,196.8L461.6,196.8L462.3,196.8L463.1,196.9L463.8,196.9L464.6,196.9L465.3,196.9L466.1,196.9L466.8,196.9L467.6,196.9L468.3,196.9L469.1,196.9L469.8,196.9L470.6,196.9L471.3,196.9L472.1,196.9L472.8,196.9L473.6,196.9L474.3,196.9L475.1,197.0L475.8,197.0L476.6,197.0L477.3,197.0L478.1,197.0L478.8,197.0L479.6,197.0L480.3,197.0L481.1,197.0L481.8,197.0L482.6,197.0L483.3,197.0L484.1,197.0L484.8,197.0L485.6,197.0L486.3,197.0L487.1,197.0L487.8,197.1L488.6,197.1L489.3,197.1L490.1,197.1L490.8,197.1L491.6,197.1L492.3,197.1L493.1,197.1L493.8,197.1L494.6,197.1L495.3,197.1L496.1,197.1L496.8,197.1L497.6,197.1L498.3,197.1L499.1,197.1L499.8,197.1L500.6,197.1L501.3,197.1L502.1,197.2L502.8,197.2L503.6,197.2L504.3,197.2L505.1,197.2L505.8,197.2L506.6,197.2L507.3,197.2L508.1,197.2L508.8,197.2L509.6,197.2L510.3,197.2L511.1,197.2L511.8,197.2L512.5,197.2L513.3,197.2L514.0,197.2L514.8,197.2L515.5,197.2L516.3,197.2L517.0,197.2L517.8,197.3L518.5,197.3L519.3,197.3L520.0,197.3L520.8,197.3L521.5,197.3L522.3,197.3L523.0,197.3L523.8,197.3L524.5,197.3L525.3,197.3L526.0,197.3L526.8,197.3L527.5,197.3L528.3,197.3L528.4,197.3" stroke="#8a1ae6" stroke-width="1.60" fill="none"/>
<path d="M378.3,195.6L379.1,195.6L379.8,195.6L380.6,195.6L381.3,195.6L382.1,195.6L382.8,195.6L383.6,195.6L384.3,195.6L385.1,195.6L385.8,195.6L386.6,195.5L387.3,195.5L388.1,195.5L388.8,195.5L389.6,195.4L390.3,195.4L391.1,195.3L391.8,195.2L392.6,195.1L393.3,195.1L394.1,194.9L394.8,194.8L395.6,194.7L396.3,194.5L397.1,194.3L397.8,194.1L398.6,193.9L399.3,193.6L400.1,193.3L400.8,192.9L401.6,192.5L402.3,192.1L403.1,191.6L403.8,191.0L404.6,190.4L405.3,189.8L406.1,189.0L406.8,188.3L407.6,187.4L408.3,186.5L409.1,185.5L409.8,184.4L410.6,183.3L411.3,182.1L412.1,180.8L412.8,179.5L413.6,178.1L414.3,176.6L415.1,175.1L415.8,173.6L416.6,172.0L417.3,170.3L418.1,168.7L418.8,167.0L419.6,165.4L420.3,163.7L421.1,162.1L421.8,160.5L422.6,159.0L423.3,157.5L424.1,156.2L424.8,154.9L425.6,153.7L426.3,152.6L427.1,151.7L427.8,150.9L428.6,150.2L429.3,149.8L430.1,149.4L430.8,149.3L431.6,149.3L432.3,149.5L433.1,149.8L433.8,150.3L434.6,151.0L435.3,151.8L436.1,152.7L436.8,153.8L437.6,154.9L438.3,156.2L439.1,157.5L439.8,158.9L440.6,160.4L441.3,162.0L442.1,163.5L442.8,165.1L443.6,166.8L444.3,168.4L445.1,170.0L445.8,171.6L446.6,173.2L447.3,174.7L448.1,176.2L448.8,177.7L449.6,179.1L450.3,180.4L451.1,181.7L451.8,182.9L452.6,184.1L453.3,185.2L454.1,186.2L454.8,187.2L455.6,188.1L456.3,188.9L457.1,189.7L457.8,190.4L458.6,191.0L459.3,191.6L460.1,192.1L460.8,192.6L461.6,193.1L462.3,193.5L463.1,193.8L463.8,194.2L464.6,194.5L465.3,194.7L466.1,194.9L466.8,195.1L467.6,195.3L468.3,195.5L469.1,195.6L469.8,195.8L470.6,195.9L471.3,196.0L472.1,196.1L472.8,196.1L473.6,196.2L474.3,196.3L475.1,196.3L475.8,196.4L476.6,196.4L477.3,196.4" stroke="#0a7d0a" stroke-width="1.60" fill="none"/>
</g>
<rect x="34.20" y="13.50" width="235.90" height="190.20" fill="none" stroke="#000" stroke-width="1.5"/>
<rect x="305.50" y="14.60" width="223.70" height="191.70" fill="none" stroke="#000" stroke-width="1.5"/>
<g stroke="#000" stroke-width="1.4">
<line x1="34.20" y1="203.70" x2="34.20" y2="207.30"/>
<line x1="51.05" y1="203.70" x2="51.05" y2="205.70"/>
<line x1="67.90" y1="203.70" x2="67.90" y2="207.30"/>
<line x1="84.75" y1="203.70" x2="84.75" y2="205.70"/>
<line x1="101.60" y1="203.70" x2="101.60" y2="207.30"/>
<line x1="118.45" y1="203.70" x2="118.45" y2="205.70"/>
<line x1="135.30" y1="203.70" x2="135.30" y2="207.30"/>
<line x1="152.15" y1="203.70" x2="152.15" y2="205.70"/>
<line x1="169.00" y1="203.70" x2="169.00" y2="207.30"/>
<line x1="185.85" y1="203.70" x2="185.85" y2="205.70"/>
<line x1="202.70" y1="203.70" x2="202.70" y2="207.30"/>
<line x1="219.55" y1="203.70" x2="219.55" y2="205.70"/>
<line x1="236.40" y1="203.70" x2="236.40" y2="207.30"/>
<line x1="253.25" y1="203.70" x2="253.25" y2="205.70"/>
<line x1="270.10" y1="203.70" x2="270.10" y2="207.30"/>
<line x1="322.71" y1="206.30" x2="322.71" y2="209.90"/>
<line x1="357.12" y1="206.30" x2="357.12" y2="209.90"/>
<line x1="391.54" y1="206.30" x2="391.54" y2="209.90"/>
<line x1="425.95" y1="206.30" x2="425.95" y2="209.90"/>
<line x1="460.37" y1="206.30" x2="460.37" y2="209.90"/>
<line x1="494.78" y1="206.30" x2="494.78" y2="209.90"/>
<line x1="529.20" y1="206.30" x2="529.20" y2="209.90"/>
<line x1="339.92" y1="206.30" x2="339.92" y2="208.30"/>
<line x1="374.33" y1="206.30" x2="374.33" y2="208.30"/>
<line x1="408.75" y1="206.30" x2="408.75" y2="208.30"/>
<line x1="443.16" y1="206.30" x2="443.16" y2="208.30"/>
<line x1="477.58" y1="206.30" x2="477.58" y2="208.30"/>
<line x1="511.99" y1="206.30" x2="511.99" y2="208.30"/>
</g>
<text x="34.20" y="218.60" font-size="10.00" fill="#000" stroke="#000" text-anchor="middle" textLength="16.60" lengthAdjust="spacingAndGlyphs">885</text>
<text x="67.90" y="218.60" font-size="10.00" fill="#000" stroke="#000" text-anchor="middle" textLength="16.60" lengthAdjust="spacingAndGlyphs">880</text>
<text x="101.60" y="218.60" font-size="10.00" fill="#000" stroke="#000" text-anchor="middle" textLength="16.60" lengthAdjust="spacingAndGlyphs">875</text>
<text x="135.30" y="218.60" font-size="10.00" fill="#000" stroke="#000" text-anchor="middle" textLength="16.60" lengthAdjust="spacingAndGlyphs">870</text>
<text x="169.00" y="218.60" font-size="10.00" fill="#000" stroke="#000" text-anchor="middle" textLength="16.60" lengthAdjust="spacingAndGlyphs">865</text>
<text x="202.70" y="218.60" font-size="10.00" fill="#000" stroke="#000" text-anchor="middle" textLength="16.60" lengthAdjust="spacingAndGlyphs">860</text>
<text x="236.40" y="218.60" font-size="10.00" fill="#000" stroke="#000" text-anchor="middle" textLength="16.60" lengthAdjust="spacingAndGlyphs">855</text>
<text x="270.10" y="218.60" font-size="10.00" fill="#000" stroke="#000" text-anchor="middle" textLength="16.60" lengthAdjust="spacingAndGlyphs">850</text>
<text x="322.71" y="221.30" font-size="10.00" fill="#000" stroke="#000" text-anchor="middle" textLength="16.00" lengthAdjust="spacingAndGlyphs">538</text>
<text x="357.12" y="221.30" font-size="10.00" fill="#000" stroke="#000" text-anchor="middle" textLength="16.00" lengthAdjust="spacingAndGlyphs">536</text>
<text x="391.54" y="221.30" font-size="10.00" fill="#000" stroke="#000" text-anchor="middle" textLength="16.00" lengthAdjust="spacingAndGlyphs">534</text>
<text x="425.95" y="221.30" font-size="10.00" fill="#000" stroke="#000" text-anchor="middle" textLength="16.00" lengthAdjust="spacingAndGlyphs">532</text>
<text x="460.37" y="221.30" font-size="10.00" fill="#000" stroke="#000" text-anchor="middle" textLength="16.00" lengthAdjust="spacingAndGlyphs">530</text>
<text x="494.78" y="221.30" font-size="10.00" fill="#000" stroke="#000" text-anchor="middle" textLength="16.00" lengthAdjust="spacingAndGlyphs">528</text>
<text x="529.20" y="221.30" font-size="10.00" fill="#000" stroke="#000" text-anchor="middle" textLength="16.00" lengthAdjust="spacingAndGlyphs">526</text>
<text x="9.30" y="24.10" font-size="11.80" fill="#000" stroke="#000" text-anchor="start" textLength="14.60" lengthAdjust="spacingAndGlyphs">(a)</text>
<text x="280.90" y="24.90" font-size="11.80" fill="#000" stroke="#000" text-anchor="start" textLength="14.80" lengthAdjust="spacingAndGlyphs">(b)</text>
<text x="37.90" y="26.10" font-size="9.80" fill="#000" stroke="#000" text-anchor="start" textLength="26.20" lengthAdjust="spacingAndGlyphs">Ni 2p</text>
<text x="308.20" y="27.30" font-size="9.60" fill="#000" stroke="#000" text-anchor="start" textLength="19.60" lengthAdjust="spacingAndGlyphs">O 1s</text>
<text x="98.90" y="234.00" font-size="10.50" fill="#000" stroke="#000" text-anchor="start" textLength="108.00" lengthAdjust="spacingAndGlyphs">Binding Energy(eV)</text>
<text x="366.30" y="240.70" font-size="10.60" fill="#000" stroke="#000" text-anchor="start" textLength="101.60" lengthAdjust="spacingAndGlyphs">Binding Energy(eV)</text>
<text x="38.00" y="67.50" font-size="10.30" fill="#000" stroke="#000" text-anchor="start" textLength="87.20" lengthAdjust="spacingAndGlyphs">MOF-74(Ni)/NiOOH</text>
<text x="38.50" y="137.70" font-size="9.90" fill="#000" stroke="#000" text-anchor="start" textLength="31.60" lengthAdjust="spacingAndGlyphs">NiOOH</text>
<text x="38.40" y="199.00" font-size="10.30" fill="#000" stroke="#000" text-anchor="start" textLength="52.40" lengthAdjust="spacingAndGlyphs">MOF-74(Ni)</text>
<text x="307.10" y="79.10" font-size="10.00" fill="#000" stroke="#000" text-anchor="start" textLength="82.60" lengthAdjust="spacingAndGlyphs">MOF-74(Ni)/NiOOH</text>
<text x="307.50" y="147.90" font-size="9.80" fill="#000" stroke="#000" text-anchor="start" textLength="30.40" lengthAdjust="spacingAndGlyphs">NiOOH</text>
<text x="307.10" y="205.10" font-size="10.00" fill="#000" stroke="#000" text-anchor="start" textLength="49.40" lengthAdjust="spacingAndGlyphs">MOF-74(Ni)</text>
<text x="62.90" y="42.20" font-size="10.60" fill="#ff10ff" stroke="#ff10ff" text-anchor="start" textLength="18.80" lengthAdjust="spacingAndGlyphs">Sat.</text>
<text x="186.10" y="39.90" font-size="10.80" fill="#7f7f12" stroke="#7f7f12" text-anchor="start" textLength="18.80" lengthAdjust="spacingAndGlyphs">Sat.</text>
<text x="97.10" y="36.00" font-size="10.50" fill="#0a7d0a" stroke="#0a7d0a" text-anchor="start">Ni 2p<tspan font-size="7.4" dy="2.6">1/2</tspan></text>
<text x="210.80" y="25.70" font-size="11.20" fill="#1414c8" stroke="#1414c8" text-anchor="start" textLength="23.90" lengthAdjust="spacingAndGlyphs">Ni 2p</text>
<text x="235.90" y="28.10" font-size="7.50" fill="#1414c8" stroke="#1414c8" text-anchor="start" textLength="10.60" lengthAdjust="spacingAndGlyphs">3/2</text>
<text stroke="#000" transform="translate(23.2,155.3) rotate(-90)" font-size="10.8" textLength="80.6" lengthAdjust="spacingAndGlyphs">Intensity(a.u.)</text>
<text stroke="#000" transform="translate(289.9,146.4) rotate(-90)" font-size="10.8" textLength="80.2" lengthAdjust="spacingAndGlyphs">Intensity(a.u.)</text>
</svg>
</body></html>
